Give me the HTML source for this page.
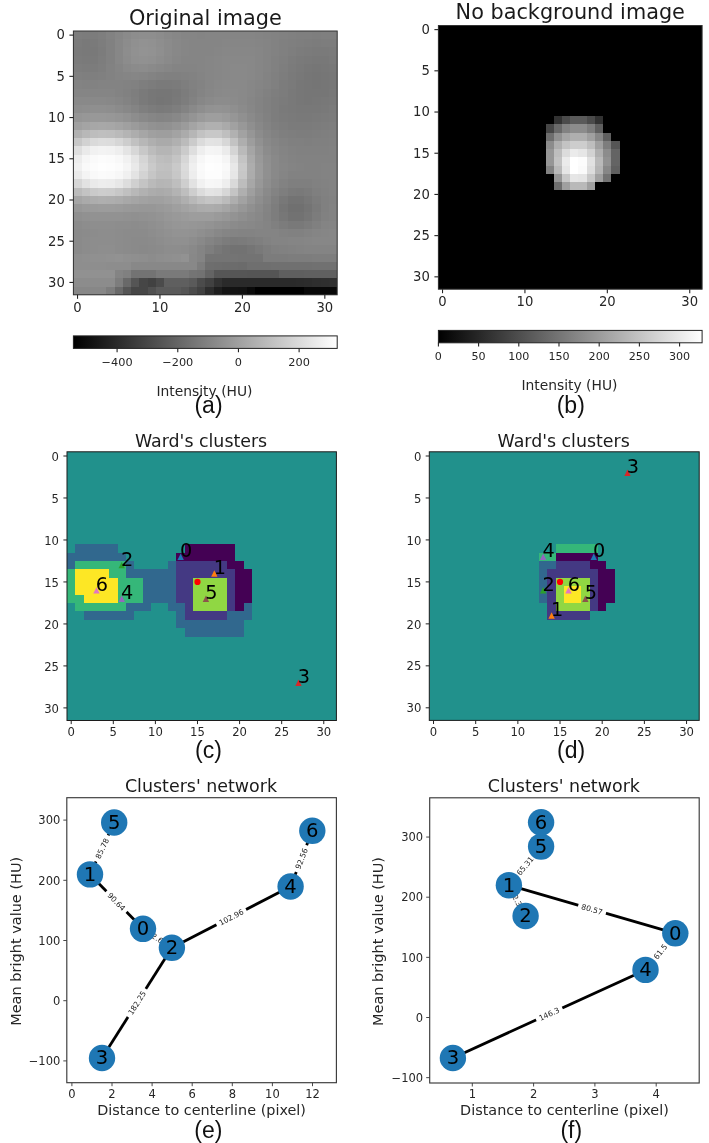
<!DOCTYPE html><html><head><meta charset="utf-8"><title>Figure</title><style>html,body{margin:0;padding:0;background:#fff}svg{display:block}</style></head><body>
<svg width="709" height="1143" viewBox="0 0 709 1143">
<rect width="709" height="1143" fill="#fff"/>
<rect x="73.4" y="31" width="263.8" height="263.8" fill="rgb(135,135,135)"/>
<g shape-rendering="crispEdges">
<rect x="73.4" y="31" width="8.24" height="8.24" fill="rgb(125,125,125)"/>
<rect x="81.64" y="31" width="16.49" height="8.24" fill="rgb(124,124,124)"/>
<rect x="98.13" y="31" width="8.24" height="8.24" fill="rgb(126,126,126)"/>
<rect x="106.38" y="31" width="8.24" height="8.24" fill="rgb(130,130,130)"/>
<rect x="114.62" y="31" width="8.24" height="8.24" fill="rgb(134,134,134)"/>
<rect x="122.86" y="31" width="8.24" height="8.24" fill="rgb(138,138,138)"/>
<rect x="131.11" y="31" width="8.24" height="8.24" fill="rgb(141,141,141)"/>
<rect x="139.35" y="31" width="16.49" height="8.24" fill="rgb(142,142,142)"/>
<rect x="155.84" y="31" width="8.24" height="8.24" fill="rgb(140,140,140)"/>
<rect x="164.08" y="31" width="8.24" height="8.24" fill="rgb(137,137,137)"/>
<rect x="172.33" y="31" width="8.24" height="8.24" fill="rgb(135,135,135)"/>
<rect x="180.57" y="31" width="16.49" height="8.24" fill="rgb(133,133,133)"/>
<rect x="197.06" y="31" width="8.24" height="8.24" fill="rgb(132,132,132)"/>
<rect x="205.3" y="31" width="49.46" height="8.24" fill="rgb(133,133,133)"/>
<rect x="254.76" y="31" width="8.24" height="8.24" fill="rgb(132,132,132)"/>
<rect x="263.01" y="31" width="8.24" height="8.24" fill="rgb(131,131,131)"/>
<rect x="271.25" y="31" width="8.24" height="8.24" fill="rgb(130,130,130)"/>
<rect x="279.49" y="31" width="8.24" height="8.24" fill="rgb(129,129,129)"/>
<rect x="287.74" y="31" width="8.24" height="8.24" fill="rgb(128,128,128)"/>
<rect x="295.98" y="31" width="16.49" height="8.24" fill="rgb(127,127,127)"/>
<rect x="312.47" y="31" width="8.24" height="8.24" fill="rgb(126,126,126)"/>
<rect x="320.71" y="31" width="16.49" height="8.24" fill="rgb(127,127,127)"/>
<rect x="73.4" y="39.24" width="8.24" height="8.24" fill="rgb(123,123,123)"/>
<rect x="81.64" y="39.24" width="8.24" height="8.24" fill="rgb(121,121,121)"/>
<rect x="89.89" y="39.24" width="8.24" height="8.24" fill="rgb(122,122,122)"/>
<rect x="98.13" y="39.24" width="8.24" height="8.24" fill="rgb(125,125,125)"/>
<rect x="106.38" y="39.24" width="8.24" height="8.24" fill="rgb(129,129,129)"/>
<rect x="114.62" y="39.24" width="8.24" height="8.24" fill="rgb(135,135,135)"/>
<rect x="122.86" y="39.24" width="8.24" height="8.24" fill="rgb(140,140,140)"/>
<rect x="131.11" y="39.24" width="8.24" height="8.24" fill="rgb(144,144,144)"/>
<rect x="139.35" y="39.24" width="8.24" height="8.24" fill="rgb(146,146,146)"/>
<rect x="147.59" y="39.24" width="8.24" height="8.24" fill="rgb(145,145,145)"/>
<rect x="155.84" y="39.24" width="8.24" height="8.24" fill="rgb(142,142,142)"/>
<rect x="164.08" y="39.24" width="8.24" height="8.24" fill="rgb(139,139,139)"/>
<rect x="172.33" y="39.24" width="8.24" height="8.24" fill="rgb(136,136,136)"/>
<rect x="180.57" y="39.24" width="8.24" height="8.24" fill="rgb(134,134,134)"/>
<rect x="188.81" y="39.24" width="32.98" height="8.24" fill="rgb(133,133,133)"/>
<rect x="221.79" y="39.24" width="32.98" height="8.24" fill="rgb(134,134,134)"/>
<rect x="254.76" y="39.24" width="8.24" height="8.24" fill="rgb(133,133,133)"/>
<rect x="263.01" y="39.24" width="8.24" height="8.24" fill="rgb(132,132,132)"/>
<rect x="271.25" y="39.24" width="8.24" height="8.24" fill="rgb(130,130,130)"/>
<rect x="279.49" y="39.24" width="8.24" height="8.24" fill="rgb(128,128,128)"/>
<rect x="287.74" y="39.24" width="8.24" height="8.24" fill="rgb(127,127,127)"/>
<rect x="295.98" y="39.24" width="8.24" height="8.24" fill="rgb(126,126,126)"/>
<rect x="304.23" y="39.24" width="8.24" height="8.24" fill="rgb(125,125,125)"/>
<rect x="312.47" y="39.24" width="8.24" height="8.24" fill="rgb(124,124,124)"/>
<rect x="320.71" y="39.24" width="16.49" height="8.24" fill="rgb(125,125,125)"/>
<rect x="73.4" y="47.49" width="8.24" height="8.24" fill="rgb(122,122,122)"/>
<rect x="81.64" y="47.49" width="16.49" height="8.24" fill="rgb(121,121,121)"/>
<rect x="98.13" y="47.49" width="8.24" height="8.24" fill="rgb(124,124,124)"/>
<rect x="106.38" y="47.49" width="8.24" height="8.24" fill="rgb(129,129,129)"/>
<rect x="114.62" y="47.49" width="8.24" height="8.24" fill="rgb(135,135,135)"/>
<rect x="122.86" y="47.49" width="8.24" height="8.24" fill="rgb(141,141,141)"/>
<rect x="131.11" y="47.49" width="8.24" height="8.24" fill="rgb(145,145,145)"/>
<rect x="139.35" y="47.49" width="8.24" height="8.24" fill="rgb(147,147,147)"/>
<rect x="147.59" y="47.49" width="8.24" height="8.24" fill="rgb(146,146,146)"/>
<rect x="155.84" y="47.49" width="8.24" height="8.24" fill="rgb(143,143,143)"/>
<rect x="164.08" y="47.49" width="8.24" height="8.24" fill="rgb(139,139,139)"/>
<rect x="172.33" y="47.49" width="8.24" height="8.24" fill="rgb(136,136,136)"/>
<rect x="180.57" y="47.49" width="8.24" height="8.24" fill="rgb(134,134,134)"/>
<rect x="188.81" y="47.49" width="24.73" height="8.24" fill="rgb(133,133,133)"/>
<rect x="213.54" y="47.49" width="8.24" height="8.24" fill="rgb(134,134,134)"/>
<rect x="221.79" y="47.49" width="32.98" height="8.24" fill="rgb(135,135,135)"/>
<rect x="254.76" y="47.49" width="8.24" height="8.24" fill="rgb(134,134,134)"/>
<rect x="263.01" y="47.49" width="8.24" height="8.24" fill="rgb(132,132,132)"/>
<rect x="271.25" y="47.49" width="8.24" height="8.24" fill="rgb(130,130,130)"/>
<rect x="279.49" y="47.49" width="8.24" height="8.24" fill="rgb(128,128,128)"/>
<rect x="287.74" y="47.49" width="8.24" height="8.24" fill="rgb(126,126,126)"/>
<rect x="295.98" y="47.49" width="8.24" height="8.24" fill="rgb(124,124,124)"/>
<rect x="304.23" y="47.49" width="8.24" height="8.24" fill="rgb(123,123,123)"/>
<rect x="312.47" y="47.49" width="16.49" height="8.24" fill="rgb(122,122,122)"/>
<rect x="328.96" y="47.49" width="8.24" height="8.24" fill="rgb(123,123,123)"/>
<rect x="73.4" y="55.73" width="8.24" height="8.24" fill="rgb(123,123,123)"/>
<rect x="81.64" y="55.73" width="16.49" height="8.24" fill="rgb(122,122,122)"/>
<rect x="98.13" y="55.73" width="8.24" height="8.24" fill="rgb(125,125,125)"/>
<rect x="106.38" y="55.73" width="8.24" height="8.24" fill="rgb(129,129,129)"/>
<rect x="114.62" y="55.73" width="8.24" height="8.24" fill="rgb(135,135,135)"/>
<rect x="122.86" y="55.73" width="8.24" height="8.24" fill="rgb(140,140,140)"/>
<rect x="131.11" y="55.73" width="8.24" height="8.24" fill="rgb(144,144,144)"/>
<rect x="139.35" y="55.73" width="8.24" height="8.24" fill="rgb(145,145,145)"/>
<rect x="147.59" y="55.73" width="8.24" height="8.24" fill="rgb(144,144,144)"/>
<rect x="155.84" y="55.73" width="8.24" height="8.24" fill="rgb(141,141,141)"/>
<rect x="164.08" y="55.73" width="8.24" height="8.24" fill="rgb(138,138,138)"/>
<rect x="172.33" y="55.73" width="8.24" height="8.24" fill="rgb(135,135,135)"/>
<rect x="180.57" y="55.73" width="24.73" height="8.24" fill="rgb(133,133,133)"/>
<rect x="205.3" y="55.73" width="8.24" height="8.24" fill="rgb(134,134,134)"/>
<rect x="213.54" y="55.73" width="8.24" height="8.24" fill="rgb(135,135,135)"/>
<rect x="221.79" y="55.73" width="32.98" height="8.24" fill="rgb(136,136,136)"/>
<rect x="254.76" y="55.73" width="8.24" height="8.24" fill="rgb(134,134,134)"/>
<rect x="263.01" y="55.73" width="8.24" height="8.24" fill="rgb(132,132,132)"/>
<rect x="271.25" y="55.73" width="8.24" height="8.24" fill="rgb(129,129,129)"/>
<rect x="279.49" y="55.73" width="8.24" height="8.24" fill="rgb(127,127,127)"/>
<rect x="287.74" y="55.73" width="8.24" height="8.24" fill="rgb(124,124,124)"/>
<rect x="295.98" y="55.73" width="8.24" height="8.24" fill="rgb(122,122,122)"/>
<rect x="304.23" y="55.73" width="8.24" height="8.24" fill="rgb(121,121,121)"/>
<rect x="312.47" y="55.73" width="16.49" height="8.24" fill="rgb(120,120,120)"/>
<rect x="328.96" y="55.73" width="8.24" height="8.24" fill="rgb(122,122,122)"/>
<rect x="73.4" y="63.98" width="8.24" height="8.24" fill="rgb(125,125,125)"/>
<rect x="81.64" y="63.98" width="16.49" height="8.24" fill="rgb(124,124,124)"/>
<rect x="98.13" y="63.98" width="8.24" height="8.24" fill="rgb(126,126,126)"/>
<rect x="106.38" y="63.98" width="8.24" height="8.24" fill="rgb(130,130,130)"/>
<rect x="114.62" y="63.98" width="8.24" height="8.24" fill="rgb(133,133,133)"/>
<rect x="122.86" y="63.98" width="8.24" height="8.24" fill="rgb(137,137,137)"/>
<rect x="131.11" y="63.98" width="8.24" height="8.24" fill="rgb(139,139,139)"/>
<rect x="139.35" y="63.98" width="8.24" height="8.24" fill="rgb(140,140,140)"/>
<rect x="147.59" y="63.98" width="8.24" height="8.24" fill="rgb(138,138,138)"/>
<rect x="155.84" y="63.98" width="8.24" height="8.24" fill="rgb(136,136,136)"/>
<rect x="164.08" y="63.98" width="8.24" height="8.24" fill="rgb(134,134,134)"/>
<rect x="172.33" y="63.98" width="24.73" height="8.24" fill="rgb(132,132,132)"/>
<rect x="197.06" y="63.98" width="8.24" height="8.24" fill="rgb(133,133,133)"/>
<rect x="205.3" y="63.98" width="8.24" height="8.24" fill="rgb(134,134,134)"/>
<rect x="213.54" y="63.98" width="8.24" height="8.24" fill="rgb(135,135,135)"/>
<rect x="221.79" y="63.98" width="8.24" height="8.24" fill="rgb(136,136,136)"/>
<rect x="230.03" y="63.98" width="16.49" height="8.24" fill="rgb(137,137,137)"/>
<rect x="246.52" y="63.98" width="8.24" height="8.24" fill="rgb(136,136,136)"/>
<rect x="254.76" y="63.98" width="8.24" height="8.24" fill="rgb(134,134,134)"/>
<rect x="263.01" y="63.98" width="8.24" height="8.24" fill="rgb(132,132,132)"/>
<rect x="271.25" y="63.98" width="8.24" height="8.24" fill="rgb(129,129,129)"/>
<rect x="279.49" y="63.98" width="8.24" height="8.24" fill="rgb(126,126,126)"/>
<rect x="287.74" y="63.98" width="8.24" height="8.24" fill="rgb(123,123,123)"/>
<rect x="295.98" y="63.98" width="8.24" height="8.24" fill="rgb(121,121,121)"/>
<rect x="304.23" y="63.98" width="8.24" height="8.24" fill="rgb(119,119,119)"/>
<rect x="312.47" y="63.98" width="8.24" height="8.24" fill="rgb(118,118,118)"/>
<rect x="320.71" y="63.98" width="8.24" height="8.24" fill="rgb(119,119,119)"/>
<rect x="328.96" y="63.98" width="8.24" height="8.24" fill="rgb(120,120,120)"/>
<rect x="73.4" y="72.22" width="8.24" height="8.24" fill="rgb(128,128,128)"/>
<rect x="81.64" y="72.22" width="16.49" height="8.24" fill="rgb(127,127,127)"/>
<rect x="98.13" y="72.22" width="8.24" height="8.24" fill="rgb(128,128,128)"/>
<rect x="106.38" y="72.22" width="8.24" height="8.24" fill="rgb(130,130,130)"/>
<rect x="114.62" y="72.22" width="8.24" height="8.24" fill="rgb(132,132,132)"/>
<rect x="122.86" y="72.22" width="8.24" height="8.24" fill="rgb(133,133,133)"/>
<rect x="131.11" y="72.22" width="8.24" height="8.24" fill="rgb(134,134,134)"/>
<rect x="139.35" y="72.22" width="8.24" height="8.24" fill="rgb(133,133,133)"/>
<rect x="147.59" y="72.22" width="8.24" height="8.24" fill="rgb(131,131,131)"/>
<rect x="155.84" y="72.22" width="8.24" height="8.24" fill="rgb(129,129,129)"/>
<rect x="164.08" y="72.22" width="16.49" height="8.24" fill="rgb(128,128,128)"/>
<rect x="180.57" y="72.22" width="8.24" height="8.24" fill="rgb(129,129,129)"/>
<rect x="188.81" y="72.22" width="8.24" height="8.24" fill="rgb(130,130,130)"/>
<rect x="197.06" y="72.22" width="8.24" height="8.24" fill="rgb(132,132,132)"/>
<rect x="205.3" y="72.22" width="8.24" height="8.24" fill="rgb(134,134,134)"/>
<rect x="213.54" y="72.22" width="8.24" height="8.24" fill="rgb(135,135,135)"/>
<rect x="221.79" y="72.22" width="8.24" height="8.24" fill="rgb(136,136,136)"/>
<rect x="230.03" y="72.22" width="16.49" height="8.24" fill="rgb(137,137,137)"/>
<rect x="246.52" y="72.22" width="8.24" height="8.24" fill="rgb(136,136,136)"/>
<rect x="254.76" y="72.22" width="8.24" height="8.24" fill="rgb(134,134,134)"/>
<rect x="263.01" y="72.22" width="8.24" height="8.24" fill="rgb(131,131,131)"/>
<rect x="271.25" y="72.22" width="8.24" height="8.24" fill="rgb(128,128,128)"/>
<rect x="279.49" y="72.22" width="8.24" height="8.24" fill="rgb(125,125,125)"/>
<rect x="287.74" y="72.22" width="8.24" height="8.24" fill="rgb(122,122,122)"/>
<rect x="295.98" y="72.22" width="8.24" height="8.24" fill="rgb(120,120,120)"/>
<rect x="304.23" y="72.22" width="8.24" height="8.24" fill="rgb(118,118,118)"/>
<rect x="312.47" y="72.22" width="8.24" height="8.24" fill="rgb(117,117,117)"/>
<rect x="320.71" y="72.22" width="8.24" height="8.24" fill="rgb(118,118,118)"/>
<rect x="328.96" y="72.22" width="8.24" height="8.24" fill="rgb(119,119,119)"/>
<rect x="73.4" y="80.46" width="8.24" height="8.24" fill="rgb(131,131,131)"/>
<rect x="81.64" y="80.46" width="16.49" height="8.24" fill="rgb(130,130,130)"/>
<rect x="98.13" y="80.46" width="24.73" height="8.24" fill="rgb(131,131,131)"/>
<rect x="122.86" y="80.46" width="8.24" height="8.24" fill="rgb(130,130,130)"/>
<rect x="131.11" y="80.46" width="8.24" height="8.24" fill="rgb(129,129,129)"/>
<rect x="139.35" y="80.46" width="8.24" height="8.24" fill="rgb(126,126,126)"/>
<rect x="147.59" y="80.46" width="8.24" height="8.24" fill="rgb(124,124,124)"/>
<rect x="155.84" y="80.46" width="16.49" height="8.24" fill="rgb(122,122,122)"/>
<rect x="172.33" y="80.46" width="8.24" height="8.24" fill="rgb(123,123,123)"/>
<rect x="180.57" y="80.46" width="8.24" height="8.24" fill="rgb(126,126,126)"/>
<rect x="188.81" y="80.46" width="8.24" height="8.24" fill="rgb(129,129,129)"/>
<rect x="197.06" y="80.46" width="8.24" height="8.24" fill="rgb(131,131,131)"/>
<rect x="205.3" y="80.46" width="8.24" height="8.24" fill="rgb(134,134,134)"/>
<rect x="213.54" y="80.46" width="8.24" height="8.24" fill="rgb(136,136,136)"/>
<rect x="221.79" y="80.46" width="24.73" height="8.24" fill="rgb(137,137,137)"/>
<rect x="246.52" y="80.46" width="8.24" height="8.24" fill="rgb(135,135,135)"/>
<rect x="254.76" y="80.46" width="8.24" height="8.24" fill="rgb(133,133,133)"/>
<rect x="263.01" y="80.46" width="8.24" height="8.24" fill="rgb(131,131,131)"/>
<rect x="271.25" y="80.46" width="8.24" height="8.24" fill="rgb(128,128,128)"/>
<rect x="279.49" y="80.46" width="8.24" height="8.24" fill="rgb(124,124,124)"/>
<rect x="287.74" y="80.46" width="8.24" height="8.24" fill="rgb(122,122,122)"/>
<rect x="295.98" y="80.46" width="8.24" height="8.24" fill="rgb(119,119,119)"/>
<rect x="304.23" y="80.46" width="8.24" height="8.24" fill="rgb(118,118,118)"/>
<rect x="312.47" y="80.46" width="8.24" height="8.24" fill="rgb(117,117,117)"/>
<rect x="320.71" y="80.46" width="8.24" height="8.24" fill="rgb(118,118,118)"/>
<rect x="328.96" y="80.46" width="8.24" height="8.24" fill="rgb(119,119,119)"/>
<rect x="73.4" y="88.71" width="41.22" height="8.24" fill="rgb(133,133,133)"/>
<rect x="114.62" y="88.71" width="8.24" height="8.24" fill="rgb(131,131,131)"/>
<rect x="122.86" y="88.71" width="8.24" height="8.24" fill="rgb(129,129,129)"/>
<rect x="131.11" y="88.71" width="8.24" height="8.24" fill="rgb(126,126,126)"/>
<rect x="139.35" y="88.71" width="8.24" height="8.24" fill="rgb(122,122,122)"/>
<rect x="147.59" y="88.71" width="8.24" height="8.24" fill="rgb(119,119,119)"/>
<rect x="155.84" y="88.71" width="16.49" height="8.24" fill="rgb(118,118,118)"/>
<rect x="172.33" y="88.71" width="8.24" height="8.24" fill="rgb(120,120,120)"/>
<rect x="180.57" y="88.71" width="8.24" height="8.24" fill="rgb(124,124,124)"/>
<rect x="188.81" y="88.71" width="8.24" height="8.24" fill="rgb(128,128,128)"/>
<rect x="197.06" y="88.71" width="8.24" height="8.24" fill="rgb(132,132,132)"/>
<rect x="205.3" y="88.71" width="8.24" height="8.24" fill="rgb(135,135,135)"/>
<rect x="213.54" y="88.71" width="8.24" height="8.24" fill="rgb(137,137,137)"/>
<rect x="221.79" y="88.71" width="16.49" height="8.24" fill="rgb(138,138,138)"/>
<rect x="238.28" y="88.71" width="8.24" height="8.24" fill="rgb(137,137,137)"/>
<rect x="246.52" y="88.71" width="8.24" height="8.24" fill="rgb(135,135,135)"/>
<rect x="254.76" y="88.71" width="8.24" height="8.24" fill="rgb(132,132,132)"/>
<rect x="263.01" y="88.71" width="8.24" height="8.24" fill="rgb(129,129,129)"/>
<rect x="271.25" y="88.71" width="8.24" height="8.24" fill="rgb(126,126,126)"/>
<rect x="279.49" y="88.71" width="8.24" height="8.24" fill="rgb(124,124,124)"/>
<rect x="287.74" y="88.71" width="8.24" height="8.24" fill="rgb(121,121,121)"/>
<rect x="295.98" y="88.71" width="8.24" height="8.24" fill="rgb(119,119,119)"/>
<rect x="304.23" y="88.71" width="24.73" height="8.24" fill="rgb(118,118,118)"/>
<rect x="328.96" y="88.71" width="8.24" height="8.24" fill="rgb(120,120,120)"/>
<rect x="73.4" y="96.95" width="32.98" height="8.24" fill="rgb(137,137,137)"/>
<rect x="106.38" y="96.95" width="8.24" height="8.24" fill="rgb(136,136,136)"/>
<rect x="114.62" y="96.95" width="8.24" height="8.24" fill="rgb(134,134,134)"/>
<rect x="122.86" y="96.95" width="8.24" height="8.24" fill="rgb(131,131,131)"/>
<rect x="131.11" y="96.95" width="8.24" height="8.24" fill="rgb(127,127,127)"/>
<rect x="139.35" y="96.95" width="8.24" height="8.24" fill="rgb(122,122,122)"/>
<rect x="147.59" y="96.95" width="8.24" height="8.24" fill="rgb(119,119,119)"/>
<rect x="155.84" y="96.95" width="8.24" height="8.24" fill="rgb(117,117,117)"/>
<rect x="164.08" y="96.95" width="8.24" height="8.24" fill="rgb(118,118,118)"/>
<rect x="172.33" y="96.95" width="8.24" height="8.24" fill="rgb(121,121,121)"/>
<rect x="180.57" y="96.95" width="8.24" height="8.24" fill="rgb(125,125,125)"/>
<rect x="188.81" y="96.95" width="8.24" height="8.24" fill="rgb(130,130,130)"/>
<rect x="197.06" y="96.95" width="8.24" height="8.24" fill="rgb(135,135,135)"/>
<rect x="205.3" y="96.95" width="8.24" height="8.24" fill="rgb(138,138,138)"/>
<rect x="213.54" y="96.95" width="16.49" height="8.24" fill="rgb(140,140,140)"/>
<rect x="230.03" y="96.95" width="8.24" height="8.24" fill="rgb(139,139,139)"/>
<rect x="238.28" y="96.95" width="8.24" height="8.24" fill="rgb(137,137,137)"/>
<rect x="246.52" y="96.95" width="8.24" height="8.24" fill="rgb(134,134,134)"/>
<rect x="254.76" y="96.95" width="8.24" height="8.24" fill="rgb(131,131,131)"/>
<rect x="263.01" y="96.95" width="8.24" height="8.24" fill="rgb(128,128,128)"/>
<rect x="271.25" y="96.95" width="8.24" height="8.24" fill="rgb(125,125,125)"/>
<rect x="279.49" y="96.95" width="8.24" height="8.24" fill="rgb(123,123,123)"/>
<rect x="287.74" y="96.95" width="8.24" height="8.24" fill="rgb(121,121,121)"/>
<rect x="295.98" y="96.95" width="8.24" height="8.24" fill="rgb(119,119,119)"/>
<rect x="304.23" y="96.95" width="8.24" height="8.24" fill="rgb(118,118,118)"/>
<rect x="312.47" y="96.95" width="8.24" height="8.24" fill="rgb(119,119,119)"/>
<rect x="320.71" y="96.95" width="8.24" height="8.24" fill="rgb(120,120,120)"/>
<rect x="328.96" y="96.95" width="8.24" height="8.24" fill="rgb(121,121,121)"/>
<rect x="73.4" y="105.19" width="8.24" height="8.24" fill="rgb(141,141,141)"/>
<rect x="81.64" y="105.19" width="8.24" height="8.24" fill="rgb(142,142,142)"/>
<rect x="89.89" y="105.19" width="16.49" height="8.24" fill="rgb(143,143,143)"/>
<rect x="106.38" y="105.19" width="8.24" height="8.24" fill="rgb(142,142,142)"/>
<rect x="114.62" y="105.19" width="8.24" height="8.24" fill="rgb(139,139,139)"/>
<rect x="122.86" y="105.19" width="8.24" height="8.24" fill="rgb(136,136,136)"/>
<rect x="131.11" y="105.19" width="8.24" height="8.24" fill="rgb(132,132,132)"/>
<rect x="139.35" y="105.19" width="8.24" height="8.24" fill="rgb(127,127,127)"/>
<rect x="147.59" y="105.19" width="8.24" height="8.24" fill="rgb(124,124,124)"/>
<rect x="155.84" y="105.19" width="8.24" height="8.24" fill="rgb(122,122,122)"/>
<rect x="164.08" y="105.19" width="8.24" height="8.24" fill="rgb(123,123,123)"/>
<rect x="172.33" y="105.19" width="8.24" height="8.24" fill="rgb(126,126,126)"/>
<rect x="180.57" y="105.19" width="8.24" height="8.24" fill="rgb(131,131,131)"/>
<rect x="188.81" y="105.19" width="8.24" height="8.24" fill="rgb(137,137,137)"/>
<rect x="197.06" y="105.19" width="8.24" height="8.24" fill="rgb(142,142,142)"/>
<rect x="205.3" y="105.19" width="8.24" height="8.24" fill="rgb(146,146,146)"/>
<rect x="213.54" y="105.19" width="8.24" height="8.24" fill="rgb(147,147,147)"/>
<rect x="221.79" y="105.19" width="8.24" height="8.24" fill="rgb(146,146,146)"/>
<rect x="230.03" y="105.19" width="8.24" height="8.24" fill="rgb(143,143,143)"/>
<rect x="238.28" y="105.19" width="8.24" height="8.24" fill="rgb(139,139,139)"/>
<rect x="246.52" y="105.19" width="8.24" height="8.24" fill="rgb(135,135,135)"/>
<rect x="254.76" y="105.19" width="8.24" height="8.24" fill="rgb(131,131,131)"/>
<rect x="263.01" y="105.19" width="8.24" height="8.24" fill="rgb(128,128,128)"/>
<rect x="271.25" y="105.19" width="8.24" height="8.24" fill="rgb(125,125,125)"/>
<rect x="279.49" y="105.19" width="8.24" height="8.24" fill="rgb(122,122,122)"/>
<rect x="287.74" y="105.19" width="8.24" height="8.24" fill="rgb(121,121,121)"/>
<rect x="295.98" y="105.19" width="24.73" height="8.24" fill="rgb(120,120,120)"/>
<rect x="320.71" y="105.19" width="8.24" height="8.24" fill="rgb(121,121,121)"/>
<rect x="328.96" y="105.19" width="8.24" height="8.24" fill="rgb(123,123,123)"/>
<rect x="73.4" y="113.44" width="8.24" height="8.24" fill="rgb(149,149,149)"/>
<rect x="81.64" y="113.44" width="8.24" height="8.24" fill="rgb(151,151,151)"/>
<rect x="89.89" y="113.44" width="16.49" height="8.24" fill="rgb(152,152,152)"/>
<rect x="106.38" y="113.44" width="8.24" height="8.24" fill="rgb(151,151,151)"/>
<rect x="114.62" y="113.44" width="8.24" height="8.24" fill="rgb(149,149,149)"/>
<rect x="122.86" y="113.44" width="8.24" height="8.24" fill="rgb(146,146,146)"/>
<rect x="131.11" y="113.44" width="8.24" height="8.24" fill="rgb(141,141,141)"/>
<rect x="139.35" y="113.44" width="8.24" height="8.24" fill="rgb(137,137,137)"/>
<rect x="147.59" y="113.44" width="8.24" height="8.24" fill="rgb(134,134,134)"/>
<rect x="155.84" y="113.44" width="8.24" height="8.24" fill="rgb(132,132,132)"/>
<rect x="164.08" y="113.44" width="8.24" height="8.24" fill="rgb(133,133,133)"/>
<rect x="172.33" y="113.44" width="8.24" height="8.24" fill="rgb(136,136,136)"/>
<rect x="180.57" y="113.44" width="8.24" height="8.24" fill="rgb(142,142,142)"/>
<rect x="188.81" y="113.44" width="8.24" height="8.24" fill="rgb(148,148,148)"/>
<rect x="197.06" y="113.44" width="8.24" height="8.24" fill="rgb(154,154,154)"/>
<rect x="205.3" y="113.44" width="16.49" height="8.24" fill="rgb(158,158,158)"/>
<rect x="221.79" y="113.44" width="8.24" height="8.24" fill="rgb(155,155,155)"/>
<rect x="230.03" y="113.44" width="8.24" height="8.24" fill="rgb(150,150,150)"/>
<rect x="238.28" y="113.44" width="8.24" height="8.24" fill="rgb(144,144,144)"/>
<rect x="246.52" y="113.44" width="8.24" height="8.24" fill="rgb(138,138,138)"/>
<rect x="254.76" y="113.44" width="8.24" height="8.24" fill="rgb(133,133,133)"/>
<rect x="263.01" y="113.44" width="8.24" height="8.24" fill="rgb(129,129,129)"/>
<rect x="271.25" y="113.44" width="8.24" height="8.24" fill="rgb(125,125,125)"/>
<rect x="279.49" y="113.44" width="8.24" height="8.24" fill="rgb(123,123,123)"/>
<rect x="287.74" y="113.44" width="8.24" height="8.24" fill="rgb(122,122,122)"/>
<rect x="295.98" y="113.44" width="16.49" height="8.24" fill="rgb(121,121,121)"/>
<rect x="312.47" y="113.44" width="8.24" height="8.24" fill="rgb(122,122,122)"/>
<rect x="320.71" y="113.44" width="8.24" height="8.24" fill="rgb(123,123,123)"/>
<rect x="328.96" y="113.44" width="8.24" height="8.24" fill="rgb(124,124,124)"/>
<rect x="73.4" y="121.68" width="8.24" height="8.24" fill="rgb(160,160,160)"/>
<rect x="81.64" y="121.68" width="8.24" height="8.24" fill="rgb(164,164,164)"/>
<rect x="89.89" y="121.68" width="8.24" height="8.24" fill="rgb(167,167,167)"/>
<rect x="98.13" y="121.68" width="8.24" height="8.24" fill="rgb(168,168,168)"/>
<rect x="106.38" y="121.68" width="8.24" height="8.24" fill="rgb(167,167,167)"/>
<rect x="114.62" y="121.68" width="8.24" height="8.24" fill="rgb(164,164,164)"/>
<rect x="122.86" y="121.68" width="8.24" height="8.24" fill="rgb(160,160,160)"/>
<rect x="131.11" y="121.68" width="8.24" height="8.24" fill="rgb(155,155,155)"/>
<rect x="139.35" y="121.68" width="8.24" height="8.24" fill="rgb(150,150,150)"/>
<rect x="147.59" y="121.68" width="8.24" height="8.24" fill="rgb(146,146,146)"/>
<rect x="155.84" y="121.68" width="8.24" height="8.24" fill="rgb(144,144,144)"/>
<rect x="164.08" y="121.68" width="8.24" height="8.24" fill="rgb(145,145,145)"/>
<rect x="172.33" y="121.68" width="8.24" height="8.24" fill="rgb(149,149,149)"/>
<rect x="180.57" y="121.68" width="8.24" height="8.24" fill="rgb(155,155,155)"/>
<rect x="188.81" y="121.68" width="8.24" height="8.24" fill="rgb(164,164,164)"/>
<rect x="197.06" y="121.68" width="8.24" height="8.24" fill="rgb(171,171,171)"/>
<rect x="205.3" y="121.68" width="16.49" height="8.24" fill="rgb(176,176,176)"/>
<rect x="221.79" y="121.68" width="8.24" height="8.24" fill="rgb(170,170,170)"/>
<rect x="230.03" y="121.68" width="8.24" height="8.24" fill="rgb(161,161,161)"/>
<rect x="238.28" y="121.68" width="8.24" height="8.24" fill="rgb(152,152,152)"/>
<rect x="246.52" y="121.68" width="8.24" height="8.24" fill="rgb(143,143,143)"/>
<rect x="254.76" y="121.68" width="8.24" height="8.24" fill="rgb(136,136,136)"/>
<rect x="263.01" y="121.68" width="8.24" height="8.24" fill="rgb(131,131,131)"/>
<rect x="271.25" y="121.68" width="8.24" height="8.24" fill="rgb(127,127,127)"/>
<rect x="279.49" y="121.68" width="8.24" height="8.24" fill="rgb(125,125,125)"/>
<rect x="287.74" y="121.68" width="24.73" height="8.24" fill="rgb(123,123,123)"/>
<rect x="312.47" y="121.68" width="8.24" height="8.24" fill="rgb(124,124,124)"/>
<rect x="320.71" y="121.68" width="8.24" height="8.24" fill="rgb(125,125,125)"/>
<rect x="328.96" y="121.68" width="8.24" height="8.24" fill="rgb(126,126,126)"/>
<rect x="73.4" y="129.93" width="8.24" height="8.24" fill="rgb(177,177,177)"/>
<rect x="81.64" y="129.93" width="8.24" height="8.24" fill="rgb(184,184,184)"/>
<rect x="89.89" y="129.93" width="8.24" height="8.24" fill="rgb(189,189,189)"/>
<rect x="98.13" y="129.93" width="8.24" height="8.24" fill="rgb(191,191,191)"/>
<rect x="106.38" y="129.93" width="8.24" height="8.24" fill="rgb(190,190,190)"/>
<rect x="114.62" y="129.93" width="8.24" height="8.24" fill="rgb(186,186,186)"/>
<rect x="122.86" y="129.93" width="8.24" height="8.24" fill="rgb(180,180,180)"/>
<rect x="131.11" y="129.93" width="8.24" height="8.24" fill="rgb(173,173,173)"/>
<rect x="139.35" y="129.93" width="8.24" height="8.24" fill="rgb(166,166,166)"/>
<rect x="147.59" y="129.93" width="8.24" height="8.24" fill="rgb(160,160,160)"/>
<rect x="155.84" y="129.93" width="16.49" height="8.24" fill="rgb(158,158,158)"/>
<rect x="172.33" y="129.93" width="8.24" height="8.24" fill="rgb(163,163,163)"/>
<rect x="180.57" y="129.93" width="8.24" height="8.24" fill="rgb(171,171,171)"/>
<rect x="188.81" y="129.93" width="8.24" height="8.24" fill="rgb(182,182,182)"/>
<rect x="197.06" y="129.93" width="8.24" height="8.24" fill="rgb(194,194,194)"/>
<rect x="205.3" y="129.93" width="16.49" height="8.24" fill="rgb(200,200,200)"/>
<rect x="221.79" y="129.93" width="8.24" height="8.24" fill="rgb(191,191,191)"/>
<rect x="230.03" y="129.93" width="8.24" height="8.24" fill="rgb(177,177,177)"/>
<rect x="238.28" y="129.93" width="8.24" height="8.24" fill="rgb(162,162,162)"/>
<rect x="246.52" y="129.93" width="8.24" height="8.24" fill="rgb(150,150,150)"/>
<rect x="254.76" y="129.93" width="8.24" height="8.24" fill="rgb(140,140,140)"/>
<rect x="263.01" y="129.93" width="8.24" height="8.24" fill="rgb(134,134,134)"/>
<rect x="271.25" y="129.93" width="8.24" height="8.24" fill="rgb(130,130,130)"/>
<rect x="279.49" y="129.93" width="8.24" height="8.24" fill="rgb(127,127,127)"/>
<rect x="287.74" y="129.93" width="8.24" height="8.24" fill="rgb(126,126,126)"/>
<rect x="295.98" y="129.93" width="16.49" height="8.24" fill="rgb(125,125,125)"/>
<rect x="312.47" y="129.93" width="8.24" height="8.24" fill="rgb(126,126,126)"/>
<rect x="320.71" y="129.93" width="8.24" height="8.24" fill="rgb(127,127,127)"/>
<rect x="328.96" y="129.93" width="8.24" height="8.24" fill="rgb(128,128,128)"/>
<rect x="73.4" y="138.17" width="8.24" height="8.24" fill="rgb(199,199,199)"/>
<rect x="81.64" y="138.17" width="8.24" height="8.24" fill="rgb(210,210,210)"/>
<rect x="89.89" y="138.17" width="8.24" height="8.24" fill="rgb(218,218,218)"/>
<rect x="98.13" y="138.17" width="8.24" height="8.24" fill="rgb(221,221,221)"/>
<rect x="106.38" y="138.17" width="8.24" height="8.24" fill="rgb(220,220,220)"/>
<rect x="114.62" y="138.17" width="8.24" height="8.24" fill="rgb(214,214,214)"/>
<rect x="122.86" y="138.17" width="8.24" height="8.24" fill="rgb(205,205,205)"/>
<rect x="131.11" y="138.17" width="8.24" height="8.24" fill="rgb(193,193,193)"/>
<rect x="139.35" y="138.17" width="8.24" height="8.24" fill="rgb(183,183,183)"/>
<rect x="147.59" y="138.17" width="8.24" height="8.24" fill="rgb(175,175,175)"/>
<rect x="155.84" y="138.17" width="16.49" height="8.24" fill="rgb(170,170,170)"/>
<rect x="172.33" y="138.17" width="8.24" height="8.24" fill="rgb(176,176,176)"/>
<rect x="180.57" y="138.17" width="8.24" height="8.24" fill="rgb(187,187,187)"/>
<rect x="188.81" y="138.17" width="8.24" height="8.24" fill="rgb(203,203,203)"/>
<rect x="197.06" y="138.17" width="8.24" height="8.24" fill="rgb(219,219,219)"/>
<rect x="205.3" y="138.17" width="8.24" height="8.24" fill="rgb(227,227,227)"/>
<rect x="213.54" y="138.17" width="8.24" height="8.24" fill="rgb(226,226,226)"/>
<rect x="221.79" y="138.17" width="8.24" height="8.24" fill="rgb(215,215,215)"/>
<rect x="230.03" y="138.17" width="8.24" height="8.24" fill="rgb(195,195,195)"/>
<rect x="238.28" y="138.17" width="8.24" height="8.24" fill="rgb(174,174,174)"/>
<rect x="246.52" y="138.17" width="8.24" height="8.24" fill="rgb(157,157,157)"/>
<rect x="254.76" y="138.17" width="8.24" height="8.24" fill="rgb(145,145,145)"/>
<rect x="263.01" y="138.17" width="8.24" height="8.24" fill="rgb(137,137,137)"/>
<rect x="271.25" y="138.17" width="8.24" height="8.24" fill="rgb(133,133,133)"/>
<rect x="279.49" y="138.17" width="8.24" height="8.24" fill="rgb(130,130,130)"/>
<rect x="287.74" y="138.17" width="16.49" height="8.24" fill="rgb(128,128,128)"/>
<rect x="304.23" y="138.17" width="8.24" height="8.24" fill="rgb(127,127,127)"/>
<rect x="312.47" y="138.17" width="16.49" height="8.24" fill="rgb(128,128,128)"/>
<rect x="328.96" y="138.17" width="8.24" height="8.24" fill="rgb(129,129,129)"/>
<rect x="73.4" y="146.41" width="8.24" height="8.24" fill="rgb(222,222,222)"/>
<rect x="81.64" y="146.41" width="8.24" height="8.24" fill="rgb(234,234,234)"/>
<rect x="89.89" y="146.41" width="8.24" height="8.24" fill="rgb(241,241,241)"/>
<rect x="98.13" y="146.41" width="8.24" height="8.24" fill="rgb(243,243,243)"/>
<rect x="106.38" y="146.41" width="8.24" height="8.24" fill="rgb(242,242,242)"/>
<rect x="114.62" y="146.41" width="8.24" height="8.24" fill="rgb(238,238,238)"/>
<rect x="122.86" y="146.41" width="8.24" height="8.24" fill="rgb(228,228,228)"/>
<rect x="131.11" y="146.41" width="8.24" height="8.24" fill="rgb(215,215,215)"/>
<rect x="139.35" y="146.41" width="8.24" height="8.24" fill="rgb(200,200,200)"/>
<rect x="147.59" y="146.41" width="8.24" height="8.24" fill="rgb(188,188,188)"/>
<rect x="155.84" y="146.41" width="16.49" height="8.24" fill="rgb(181,181,181)"/>
<rect x="172.33" y="146.41" width="8.24" height="8.24" fill="rgb(188,188,188)"/>
<rect x="180.57" y="146.41" width="8.24" height="8.24" fill="rgb(203,203,203)"/>
<rect x="188.81" y="146.41" width="8.24" height="8.24" fill="rgb(222,222,222)"/>
<rect x="197.06" y="146.41" width="8.24" height="8.24" fill="rgb(238,238,238)"/>
<rect x="205.3" y="146.41" width="8.24" height="8.24" fill="rgb(245,245,245)"/>
<rect x="213.54" y="146.41" width="8.24" height="8.24" fill="rgb(244,244,244)"/>
<rect x="221.79" y="146.41" width="8.24" height="8.24" fill="rgb(235,235,235)"/>
<rect x="230.03" y="146.41" width="8.24" height="8.24" fill="rgb(213,213,213)"/>
<rect x="238.28" y="146.41" width="8.24" height="8.24" fill="rgb(186,186,186)"/>
<rect x="246.52" y="146.41" width="8.24" height="8.24" fill="rgb(165,165,165)"/>
<rect x="254.76" y="146.41" width="8.24" height="8.24" fill="rgb(150,150,150)"/>
<rect x="263.01" y="146.41" width="8.24" height="8.24" fill="rgb(140,140,140)"/>
<rect x="271.25" y="146.41" width="8.24" height="8.24" fill="rgb(135,135,135)"/>
<rect x="279.49" y="146.41" width="8.24" height="8.24" fill="rgb(132,132,132)"/>
<rect x="287.74" y="146.41" width="8.24" height="8.24" fill="rgb(130,130,130)"/>
<rect x="295.98" y="146.41" width="32.98" height="8.24" fill="rgb(129,129,129)"/>
<rect x="328.96" y="146.41" width="8.24" height="8.24" fill="rgb(130,130,130)"/>
<rect x="73.4" y="154.66" width="8.24" height="8.24" fill="rgb(236,236,236)"/>
<rect x="81.64" y="154.66" width="8.24" height="8.24" fill="rgb(246,246,246)"/>
<rect x="89.89" y="154.66" width="8.24" height="8.24" fill="rgb(250,250,250)"/>
<rect x="98.13" y="154.66" width="8.24" height="8.24" fill="rgb(252,252,252)"/>
<rect x="106.38" y="154.66" width="8.24" height="8.24" fill="rgb(251,251,251)"/>
<rect x="114.62" y="154.66" width="8.24" height="8.24" fill="rgb(248,248,248)"/>
<rect x="122.86" y="154.66" width="8.24" height="8.24" fill="rgb(241,241,241)"/>
<rect x="131.11" y="154.66" width="8.24" height="8.24" fill="rgb(229,229,229)"/>
<rect x="139.35" y="154.66" width="8.24" height="8.24" fill="rgb(213,213,213)"/>
<rect x="147.59" y="154.66" width="8.24" height="8.24" fill="rgb(198,198,198)"/>
<rect x="155.84" y="154.66" width="8.24" height="8.24" fill="rgb(190,190,190)"/>
<rect x="164.08" y="154.66" width="8.24" height="8.24" fill="rgb(188,188,188)"/>
<rect x="172.33" y="154.66" width="8.24" height="8.24" fill="rgb(196,196,196)"/>
<rect x="180.57" y="154.66" width="8.24" height="8.24" fill="rgb(214,214,214)"/>
<rect x="188.81" y="154.66" width="8.24" height="8.24" fill="rgb(235,235,235)"/>
<rect x="197.06" y="154.66" width="8.24" height="8.24" fill="rgb(247,247,247)"/>
<rect x="205.3" y="154.66" width="8.24" height="8.24" fill="rgb(252,252,252)"/>
<rect x="213.54" y="154.66" width="8.24" height="8.24" fill="rgb(251,251,251)"/>
<rect x="221.79" y="154.66" width="8.24" height="8.24" fill="rgb(245,245,245)"/>
<rect x="230.03" y="154.66" width="8.24" height="8.24" fill="rgb(226,226,226)"/>
<rect x="238.28" y="154.66" width="8.24" height="8.24" fill="rgb(196,196,196)"/>
<rect x="246.52" y="154.66" width="8.24" height="8.24" fill="rgb(170,170,170)"/>
<rect x="254.76" y="154.66" width="8.24" height="8.24" fill="rgb(153,153,153)"/>
<rect x="263.01" y="154.66" width="8.24" height="8.24" fill="rgb(143,143,143)"/>
<rect x="271.25" y="154.66" width="8.24" height="8.24" fill="rgb(137,137,137)"/>
<rect x="279.49" y="154.66" width="8.24" height="8.24" fill="rgb(133,133,133)"/>
<rect x="287.74" y="154.66" width="8.24" height="8.24" fill="rgb(131,131,131)"/>
<rect x="295.98" y="154.66" width="41.22" height="8.24" fill="rgb(130,130,130)"/>
<rect x="73.4" y="162.9" width="8.24" height="8.24" fill="rgb(240,240,240)"/>
<rect x="81.64" y="162.9" width="8.24" height="8.24" fill="rgb(249,249,249)"/>
<rect x="89.89" y="162.9" width="8.24" height="8.24" fill="rgb(252,252,252)"/>
<rect x="98.13" y="162.9" width="8.24" height="8.24" fill="rgb(254,254,254)"/>
<rect x="106.38" y="162.9" width="8.24" height="8.24" fill="rgb(253,253,253)"/>
<rect x="114.62" y="162.9" width="8.24" height="8.24" fill="rgb(251,251,251)"/>
<rect x="122.86" y="162.9" width="8.24" height="8.24" fill="rgb(245,245,245)"/>
<rect x="131.11" y="162.9" width="8.24" height="8.24" fill="rgb(233,233,233)"/>
<rect x="139.35" y="162.9" width="8.24" height="8.24" fill="rgb(217,217,217)"/>
<rect x="147.59" y="162.9" width="8.24" height="8.24" fill="rgb(202,202,202)"/>
<rect x="155.84" y="162.9" width="8.24" height="8.24" fill="rgb(193,193,193)"/>
<rect x="164.08" y="162.9" width="8.24" height="8.24" fill="rgb(192,192,192)"/>
<rect x="172.33" y="162.9" width="8.24" height="8.24" fill="rgb(201,201,201)"/>
<rect x="180.57" y="162.9" width="8.24" height="8.24" fill="rgb(219,219,219)"/>
<rect x="188.81" y="162.9" width="8.24" height="8.24" fill="rgb(239,239,239)"/>
<rect x="197.06" y="162.9" width="8.24" height="8.24" fill="rgb(250,250,250)"/>
<rect x="205.3" y="162.9" width="8.24" height="8.24" fill="rgb(254,254,254)"/>
<rect x="213.54" y="162.9" width="8.24" height="8.24" fill="rgb(253,253,253)"/>
<rect x="221.79" y="162.9" width="8.24" height="8.24" fill="rgb(249,249,249)"/>
<rect x="230.03" y="162.9" width="8.24" height="8.24" fill="rgb(232,232,232)"/>
<rect x="238.28" y="162.9" width="8.24" height="8.24" fill="rgb(201,201,201)"/>
<rect x="246.52" y="162.9" width="8.24" height="8.24" fill="rgb(173,173,173)"/>
<rect x="254.76" y="162.9" width="8.24" height="8.24" fill="rgb(155,155,155)"/>
<rect x="263.01" y="162.9" width="8.24" height="8.24" fill="rgb(144,144,144)"/>
<rect x="271.25" y="162.9" width="8.24" height="8.24" fill="rgb(137,137,137)"/>
<rect x="279.49" y="162.9" width="8.24" height="8.24" fill="rgb(134,134,134)"/>
<rect x="287.74" y="162.9" width="8.24" height="8.24" fill="rgb(132,132,132)"/>
<rect x="295.98" y="162.9" width="8.24" height="8.24" fill="rgb(131,131,131)"/>
<rect x="304.23" y="162.9" width="16.49" height="8.24" fill="rgb(130,130,130)"/>
<rect x="320.71" y="162.9" width="16.49" height="8.24" fill="rgb(131,131,131)"/>
<rect x="73.4" y="171.14" width="8.24" height="8.24" fill="rgb(234,234,234)"/>
<rect x="81.64" y="171.14" width="8.24" height="8.24" fill="rgb(244,244,244)"/>
<rect x="89.89" y="171.14" width="8.24" height="8.24" fill="rgb(249,249,249)"/>
<rect x="98.13" y="171.14" width="8.24" height="8.24" fill="rgb(251,251,251)"/>
<rect x="106.38" y="171.14" width="8.24" height="8.24" fill="rgb(250,250,250)"/>
<rect x="114.62" y="171.14" width="8.24" height="8.24" fill="rgb(247,247,247)"/>
<rect x="122.86" y="171.14" width="8.24" height="8.24" fill="rgb(240,240,240)"/>
<rect x="131.11" y="171.14" width="8.24" height="8.24" fill="rgb(227,227,227)"/>
<rect x="139.35" y="171.14" width="8.24" height="8.24" fill="rgb(211,211,211)"/>
<rect x="147.59" y="171.14" width="8.24" height="8.24" fill="rgb(198,198,198)"/>
<rect x="155.84" y="171.14" width="16.49" height="8.24" fill="rgb(190,190,190)"/>
<rect x="172.33" y="171.14" width="8.24" height="8.24" fill="rgb(199,199,199)"/>
<rect x="180.57" y="171.14" width="8.24" height="8.24" fill="rgb(217,217,217)"/>
<rect x="188.81" y="171.14" width="8.24" height="8.24" fill="rgb(237,237,237)"/>
<rect x="197.06" y="171.14" width="8.24" height="8.24" fill="rgb(249,249,249)"/>
<rect x="205.3" y="171.14" width="16.49" height="8.24" fill="rgb(253,253,253)"/>
<rect x="221.79" y="171.14" width="8.24" height="8.24" fill="rgb(247,247,247)"/>
<rect x="230.03" y="171.14" width="8.24" height="8.24" fill="rgb(230,230,230)"/>
<rect x="238.28" y="171.14" width="8.24" height="8.24" fill="rgb(199,199,199)"/>
<rect x="246.52" y="171.14" width="8.24" height="8.24" fill="rgb(172,172,172)"/>
<rect x="254.76" y="171.14" width="8.24" height="8.24" fill="rgb(155,155,155)"/>
<rect x="263.01" y="171.14" width="8.24" height="8.24" fill="rgb(144,144,144)"/>
<rect x="271.25" y="171.14" width="8.24" height="8.24" fill="rgb(137,137,137)"/>
<rect x="279.49" y="171.14" width="8.24" height="8.24" fill="rgb(133,133,133)"/>
<rect x="287.74" y="171.14" width="32.98" height="8.24" fill="rgb(130,130,130)"/>
<rect x="320.71" y="171.14" width="16.49" height="8.24" fill="rgb(131,131,131)"/>
<rect x="73.4" y="179.39" width="8.24" height="8.24" fill="rgb(214,214,214)"/>
<rect x="81.64" y="179.39" width="8.24" height="8.24" fill="rgb(226,226,226)"/>
<rect x="89.89" y="179.39" width="8.24" height="8.24" fill="rgb(234,234,234)"/>
<rect x="98.13" y="179.39" width="8.24" height="8.24" fill="rgb(237,237,237)"/>
<rect x="106.38" y="179.39" width="8.24" height="8.24" fill="rgb(236,236,236)"/>
<rect x="114.62" y="179.39" width="8.24" height="8.24" fill="rgb(231,231,231)"/>
<rect x="122.86" y="179.39" width="8.24" height="8.24" fill="rgb(221,221,221)"/>
<rect x="131.11" y="179.39" width="8.24" height="8.24" fill="rgb(208,208,208)"/>
<rect x="139.35" y="179.39" width="8.24" height="8.24" fill="rgb(196,196,196)"/>
<rect x="147.59" y="179.39" width="8.24" height="8.24" fill="rgb(186,186,186)"/>
<rect x="155.84" y="179.39" width="8.24" height="8.24" fill="rgb(181,181,181)"/>
<rect x="164.08" y="179.39" width="8.24" height="8.24" fill="rgb(182,182,182)"/>
<rect x="172.33" y="179.39" width="8.24" height="8.24" fill="rgb(190,190,190)"/>
<rect x="180.57" y="179.39" width="8.24" height="8.24" fill="rgb(206,206,206)"/>
<rect x="188.81" y="179.39" width="8.24" height="8.24" fill="rgb(226,226,226)"/>
<rect x="197.06" y="179.39" width="8.24" height="8.24" fill="rgb(241,241,241)"/>
<rect x="205.3" y="179.39" width="8.24" height="8.24" fill="rgb(247,247,247)"/>
<rect x="213.54" y="179.39" width="8.24" height="8.24" fill="rgb(246,246,246)"/>
<rect x="221.79" y="179.39" width="8.24" height="8.24" fill="rgb(238,238,238)"/>
<rect x="230.03" y="179.39" width="8.24" height="8.24" fill="rgb(217,217,217)"/>
<rect x="238.28" y="179.39" width="8.24" height="8.24" fill="rgb(189,189,189)"/>
<rect x="246.52" y="179.39" width="8.24" height="8.24" fill="rgb(167,167,167)"/>
<rect x="254.76" y="179.39" width="8.24" height="8.24" fill="rgb(152,152,152)"/>
<rect x="263.01" y="179.39" width="8.24" height="8.24" fill="rgb(142,142,142)"/>
<rect x="271.25" y="179.39" width="8.24" height="8.24" fill="rgb(135,135,135)"/>
<rect x="279.49" y="179.39" width="8.24" height="8.24" fill="rgb(130,130,130)"/>
<rect x="287.74" y="179.39" width="24.73" height="8.24" fill="rgb(127,127,127)"/>
<rect x="312.47" y="179.39" width="8.24" height="8.24" fill="rgb(129,129,129)"/>
<rect x="320.71" y="179.39" width="8.24" height="8.24" fill="rgb(130,130,130)"/>
<rect x="328.96" y="179.39" width="8.24" height="8.24" fill="rgb(131,131,131)"/>
<rect x="73.4" y="187.63" width="8.24" height="8.24" fill="rgb(187,187,187)"/>
<rect x="81.64" y="187.63" width="8.24" height="8.24" fill="rgb(195,195,195)"/>
<rect x="89.89" y="187.63" width="8.24" height="8.24" fill="rgb(202,202,202)"/>
<rect x="98.13" y="187.63" width="8.24" height="8.24" fill="rgb(205,205,205)"/>
<rect x="106.38" y="187.63" width="8.24" height="8.24" fill="rgb(204,204,204)"/>
<rect x="114.62" y="187.63" width="8.24" height="8.24" fill="rgb(199,199,199)"/>
<rect x="122.86" y="187.63" width="8.24" height="8.24" fill="rgb(192,192,192)"/>
<rect x="131.11" y="187.63" width="8.24" height="8.24" fill="rgb(184,184,184)"/>
<rect x="139.35" y="187.63" width="8.24" height="8.24" fill="rgb(177,177,177)"/>
<rect x="147.59" y="187.63" width="8.24" height="8.24" fill="rgb(172,172,172)"/>
<rect x="155.84" y="187.63" width="8.24" height="8.24" fill="rgb(170,170,170)"/>
<rect x="164.08" y="187.63" width="8.24" height="8.24" fill="rgb(172,172,172)"/>
<rect x="172.33" y="187.63" width="8.24" height="8.24" fill="rgb(179,179,179)"/>
<rect x="180.57" y="187.63" width="8.24" height="8.24" fill="rgb(190,190,190)"/>
<rect x="188.81" y="187.63" width="8.24" height="8.24" fill="rgb(206,206,206)"/>
<rect x="197.06" y="187.63" width="8.24" height="8.24" fill="rgb(220,220,220)"/>
<rect x="205.3" y="187.63" width="8.24" height="8.24" fill="rgb(228,228,228)"/>
<rect x="213.54" y="187.63" width="8.24" height="8.24" fill="rgb(226,226,226)"/>
<rect x="221.79" y="187.63" width="8.24" height="8.24" fill="rgb(215,215,215)"/>
<rect x="230.03" y="187.63" width="8.24" height="8.24" fill="rgb(196,196,196)"/>
<rect x="238.28" y="187.63" width="8.24" height="8.24" fill="rgb(175,175,175)"/>
<rect x="246.52" y="187.63" width="8.24" height="8.24" fill="rgb(159,159,159)"/>
<rect x="254.76" y="187.63" width="8.24" height="8.24" fill="rgb(147,147,147)"/>
<rect x="263.01" y="187.63" width="8.24" height="8.24" fill="rgb(138,138,138)"/>
<rect x="271.25" y="187.63" width="8.24" height="8.24" fill="rgb(131,131,131)"/>
<rect x="279.49" y="187.63" width="8.24" height="8.24" fill="rgb(126,126,126)"/>
<rect x="287.74" y="187.63" width="8.24" height="8.24" fill="rgb(122,122,122)"/>
<rect x="295.98" y="187.63" width="8.24" height="8.24" fill="rgb(121,121,121)"/>
<rect x="304.23" y="187.63" width="8.24" height="8.24" fill="rgb(123,123,123)"/>
<rect x="312.47" y="187.63" width="8.24" height="8.24" fill="rgb(127,127,127)"/>
<rect x="320.71" y="187.63" width="8.24" height="8.24" fill="rgb(129,129,129)"/>
<rect x="328.96" y="187.63" width="8.24" height="8.24" fill="rgb(131,131,131)"/>
<rect x="73.4" y="195.88" width="8.24" height="8.24" fill="rgb(165,165,165)"/>
<rect x="81.64" y="195.88" width="8.24" height="8.24" fill="rgb(170,170,170)"/>
<rect x="89.89" y="195.88" width="8.24" height="8.24" fill="rgb(173,173,173)"/>
<rect x="98.13" y="195.88" width="8.24" height="8.24" fill="rgb(175,175,175)"/>
<rect x="106.38" y="195.88" width="8.24" height="8.24" fill="rgb(174,174,174)"/>
<rect x="114.62" y="195.88" width="8.24" height="8.24" fill="rgb(172,172,172)"/>
<rect x="122.86" y="195.88" width="8.24" height="8.24" fill="rgb(168,168,168)"/>
<rect x="131.11" y="195.88" width="8.24" height="8.24" fill="rgb(165,165,165)"/>
<rect x="139.35" y="195.88" width="8.24" height="8.24" fill="rgb(162,162,162)"/>
<rect x="147.59" y="195.88" width="16.49" height="8.24" fill="rgb(160,160,160)"/>
<rect x="164.08" y="195.88" width="8.24" height="8.24" fill="rgb(163,163,163)"/>
<rect x="172.33" y="195.88" width="8.24" height="8.24" fill="rgb(167,167,167)"/>
<rect x="180.57" y="195.88" width="8.24" height="8.24" fill="rgb(175,175,175)"/>
<rect x="188.81" y="195.88" width="8.24" height="8.24" fill="rgb(184,184,184)"/>
<rect x="197.06" y="195.88" width="8.24" height="8.24" fill="rgb(192,192,192)"/>
<rect x="205.3" y="195.88" width="8.24" height="8.24" fill="rgb(197,197,197)"/>
<rect x="213.54" y="195.88" width="8.24" height="8.24" fill="rgb(195,195,195)"/>
<rect x="221.79" y="195.88" width="8.24" height="8.24" fill="rgb(187,187,187)"/>
<rect x="230.03" y="195.88" width="8.24" height="8.24" fill="rgb(174,174,174)"/>
<rect x="238.28" y="195.88" width="8.24" height="8.24" fill="rgb(162,162,162)"/>
<rect x="246.52" y="195.88" width="8.24" height="8.24" fill="rgb(151,151,151)"/>
<rect x="254.76" y="195.88" width="8.24" height="8.24" fill="rgb(142,142,142)"/>
<rect x="263.01" y="195.88" width="8.24" height="8.24" fill="rgb(135,135,135)"/>
<rect x="271.25" y="195.88" width="8.24" height="8.24" fill="rgb(127,127,127)"/>
<rect x="279.49" y="195.88" width="8.24" height="8.24" fill="rgb(120,120,120)"/>
<rect x="287.74" y="195.88" width="16.49" height="8.24" fill="rgb(115,115,115)"/>
<rect x="304.23" y="195.88" width="8.24" height="8.24" fill="rgb(119,119,119)"/>
<rect x="312.47" y="195.88" width="8.24" height="8.24" fill="rgb(124,124,124)"/>
<rect x="320.71" y="195.88" width="8.24" height="8.24" fill="rgb(128,128,128)"/>
<rect x="328.96" y="195.88" width="8.24" height="8.24" fill="rgb(130,130,130)"/>
<rect x="73.4" y="204.12" width="8.24" height="8.24" fill="rgb(151,151,151)"/>
<rect x="81.64" y="204.12" width="8.24" height="8.24" fill="rgb(154,154,154)"/>
<rect x="89.89" y="204.12" width="8.24" height="8.24" fill="rgb(155,155,155)"/>
<rect x="98.13" y="204.12" width="16.49" height="8.24" fill="rgb(156,156,156)"/>
<rect x="114.62" y="204.12" width="8.24" height="8.24" fill="rgb(155,155,155)"/>
<rect x="122.86" y="204.12" width="8.24" height="8.24" fill="rgb(153,153,153)"/>
<rect x="131.11" y="204.12" width="8.24" height="8.24" fill="rgb(152,152,152)"/>
<rect x="139.35" y="204.12" width="16.49" height="8.24" fill="rgb(151,151,151)"/>
<rect x="155.84" y="204.12" width="8.24" height="8.24" fill="rgb(153,153,153)"/>
<rect x="164.08" y="204.12" width="8.24" height="8.24" fill="rgb(155,155,155)"/>
<rect x="172.33" y="204.12" width="8.24" height="8.24" fill="rgb(159,159,159)"/>
<rect x="180.57" y="204.12" width="8.24" height="8.24" fill="rgb(163,163,163)"/>
<rect x="188.81" y="204.12" width="8.24" height="8.24" fill="rgb(167,167,167)"/>
<rect x="197.06" y="204.12" width="8.24" height="8.24" fill="rgb(171,171,171)"/>
<rect x="205.3" y="204.12" width="8.24" height="8.24" fill="rgb(172,172,172)"/>
<rect x="213.54" y="204.12" width="8.24" height="8.24" fill="rgb(170,170,170)"/>
<rect x="221.79" y="204.12" width="8.24" height="8.24" fill="rgb(165,165,165)"/>
<rect x="230.03" y="204.12" width="8.24" height="8.24" fill="rgb(158,158,158)"/>
<rect x="238.28" y="204.12" width="8.24" height="8.24" fill="rgb(151,151,151)"/>
<rect x="246.52" y="204.12" width="8.24" height="8.24" fill="rgb(144,144,144)"/>
<rect x="254.76" y="204.12" width="8.24" height="8.24" fill="rgb(138,138,138)"/>
<rect x="263.01" y="204.12" width="8.24" height="8.24" fill="rgb(132,132,132)"/>
<rect x="271.25" y="204.12" width="8.24" height="8.24" fill="rgb(125,125,125)"/>
<rect x="279.49" y="204.12" width="8.24" height="8.24" fill="rgb(117,117,117)"/>
<rect x="287.74" y="204.12" width="16.49" height="8.24" fill="rgb(112,112,112)"/>
<rect x="304.23" y="204.12" width="8.24" height="8.24" fill="rgb(116,116,116)"/>
<rect x="312.47" y="204.12" width="8.24" height="8.24" fill="rgb(122,122,122)"/>
<rect x="320.71" y="204.12" width="8.24" height="8.24" fill="rgb(128,128,128)"/>
<rect x="328.96" y="204.12" width="8.24" height="8.24" fill="rgb(131,131,131)"/>
<rect x="73.4" y="212.36" width="8.24" height="8.24" fill="rgb(143,143,143)"/>
<rect x="81.64" y="212.36" width="8.24" height="8.24" fill="rgb(145,145,145)"/>
<rect x="89.89" y="212.36" width="32.98" height="8.24" fill="rgb(146,146,146)"/>
<rect x="122.86" y="212.36" width="8.24" height="8.24" fill="rgb(145,145,145)"/>
<rect x="131.11" y="212.36" width="8.24" height="8.24" fill="rgb(144,144,144)"/>
<rect x="139.35" y="212.36" width="8.24" height="8.24" fill="rgb(145,145,145)"/>
<rect x="147.59" y="212.36" width="8.24" height="8.24" fill="rgb(146,146,146)"/>
<rect x="155.84" y="212.36" width="8.24" height="8.24" fill="rgb(148,148,148)"/>
<rect x="164.08" y="212.36" width="8.24" height="8.24" fill="rgb(151,151,151)"/>
<rect x="172.33" y="212.36" width="8.24" height="8.24" fill="rgb(153,153,153)"/>
<rect x="180.57" y="212.36" width="8.24" height="8.24" fill="rgb(155,155,155)"/>
<rect x="188.81" y="212.36" width="24.73" height="8.24" fill="rgb(157,157,157)"/>
<rect x="213.54" y="212.36" width="8.24" height="8.24" fill="rgb(154,154,154)"/>
<rect x="221.79" y="212.36" width="8.24" height="8.24" fill="rgb(151,151,151)"/>
<rect x="230.03" y="212.36" width="8.24" height="8.24" fill="rgb(147,147,147)"/>
<rect x="238.28" y="212.36" width="8.24" height="8.24" fill="rgb(143,143,143)"/>
<rect x="246.52" y="212.36" width="8.24" height="8.24" fill="rgb(139,139,139)"/>
<rect x="254.76" y="212.36" width="8.24" height="8.24" fill="rgb(136,136,136)"/>
<rect x="263.01" y="212.36" width="8.24" height="8.24" fill="rgb(131,131,131)"/>
<rect x="271.25" y="212.36" width="8.24" height="8.24" fill="rgb(125,125,125)"/>
<rect x="279.49" y="212.36" width="8.24" height="8.24" fill="rgb(119,119,119)"/>
<rect x="287.74" y="212.36" width="16.49" height="8.24" fill="rgb(114,114,114)"/>
<rect x="304.23" y="212.36" width="8.24" height="8.24" fill="rgb(118,118,118)"/>
<rect x="312.47" y="212.36" width="8.24" height="8.24" fill="rgb(124,124,124)"/>
<rect x="320.71" y="212.36" width="8.24" height="8.24" fill="rgb(129,129,129)"/>
<rect x="328.96" y="212.36" width="8.24" height="8.24" fill="rgb(131,131,131)"/>
<rect x="73.4" y="220.61" width="8.24" height="8.24" fill="rgb(139,139,139)"/>
<rect x="81.64" y="220.61" width="8.24" height="8.24" fill="rgb(141,141,141)"/>
<rect x="89.89" y="220.61" width="24.73" height="8.24" fill="rgb(142,142,142)"/>
<rect x="114.62" y="220.61" width="16.49" height="8.24" fill="rgb(141,141,141)"/>
<rect x="131.11" y="220.61" width="8.24" height="8.24" fill="rgb(140,140,140)"/>
<rect x="139.35" y="220.61" width="8.24" height="8.24" fill="rgb(141,141,141)"/>
<rect x="147.59" y="220.61" width="8.24" height="8.24" fill="rgb(143,143,143)"/>
<rect x="155.84" y="220.61" width="8.24" height="8.24" fill="rgb(145,145,145)"/>
<rect x="164.08" y="220.61" width="8.24" height="8.24" fill="rgb(148,148,148)"/>
<rect x="172.33" y="220.61" width="8.24" height="8.24" fill="rgb(150,150,150)"/>
<rect x="180.57" y="220.61" width="8.24" height="8.24" fill="rgb(151,151,151)"/>
<rect x="188.81" y="220.61" width="8.24" height="8.24" fill="rgb(150,150,150)"/>
<rect x="197.06" y="220.61" width="8.24" height="8.24" fill="rgb(149,149,149)"/>
<rect x="205.3" y="220.61" width="8.24" height="8.24" fill="rgb(147,147,147)"/>
<rect x="213.54" y="220.61" width="8.24" height="8.24" fill="rgb(144,144,144)"/>
<rect x="221.79" y="220.61" width="8.24" height="8.24" fill="rgb(142,142,142)"/>
<rect x="230.03" y="220.61" width="8.24" height="8.24" fill="rgb(139,139,139)"/>
<rect x="238.28" y="220.61" width="8.24" height="8.24" fill="rgb(137,137,137)"/>
<rect x="246.52" y="220.61" width="8.24" height="8.24" fill="rgb(136,136,136)"/>
<rect x="254.76" y="220.61" width="8.24" height="8.24" fill="rgb(134,134,134)"/>
<rect x="263.01" y="220.61" width="8.24" height="8.24" fill="rgb(132,132,132)"/>
<rect x="271.25" y="220.61" width="8.24" height="8.24" fill="rgb(128,128,128)"/>
<rect x="279.49" y="220.61" width="8.24" height="8.24" fill="rgb(124,124,124)"/>
<rect x="287.74" y="220.61" width="16.49" height="8.24" fill="rgb(121,121,121)"/>
<rect x="304.23" y="220.61" width="8.24" height="8.24" fill="rgb(124,124,124)"/>
<rect x="312.47" y="220.61" width="8.24" height="8.24" fill="rgb(128,128,128)"/>
<rect x="320.71" y="220.61" width="8.24" height="8.24" fill="rgb(132,132,132)"/>
<rect x="328.96" y="220.61" width="8.24" height="8.24" fill="rgb(133,133,133)"/>
<rect x="73.4" y="228.85" width="8.24" height="8.24" fill="rgb(138,138,138)"/>
<rect x="81.64" y="228.85" width="8.24" height="8.24" fill="rgb(139,139,139)"/>
<rect x="89.89" y="228.85" width="8.24" height="8.24" fill="rgb(140,140,140)"/>
<rect x="98.13" y="228.85" width="16.49" height="8.24" fill="rgb(141,141,141)"/>
<rect x="114.62" y="228.85" width="8.24" height="8.24" fill="rgb(140,140,140)"/>
<rect x="122.86" y="228.85" width="24.73" height="8.24" fill="rgb(139,139,139)"/>
<rect x="147.59" y="228.85" width="8.24" height="8.24" fill="rgb(141,141,141)"/>
<rect x="155.84" y="228.85" width="8.24" height="8.24" fill="rgb(143,143,143)"/>
<rect x="164.08" y="228.85" width="8.24" height="8.24" fill="rgb(145,145,145)"/>
<rect x="172.33" y="228.85" width="16.49" height="8.24" fill="rgb(147,147,147)"/>
<rect x="188.81" y="228.85" width="8.24" height="8.24" fill="rgb(146,146,146)"/>
<rect x="197.06" y="228.85" width="8.24" height="8.24" fill="rgb(143,143,143)"/>
<rect x="205.3" y="228.85" width="8.24" height="8.24" fill="rgb(140,140,140)"/>
<rect x="213.54" y="228.85" width="8.24" height="8.24" fill="rgb(136,136,136)"/>
<rect x="221.79" y="228.85" width="8.24" height="8.24" fill="rgb(133,133,133)"/>
<rect x="230.03" y="228.85" width="8.24" height="8.24" fill="rgb(132,132,132)"/>
<rect x="238.28" y="228.85" width="16.49" height="8.24" fill="rgb(131,131,131)"/>
<rect x="254.76" y="228.85" width="24.73" height="8.24" fill="rgb(132,132,132)"/>
<rect x="279.49" y="228.85" width="8.24" height="8.24" fill="rgb(130,130,130)"/>
<rect x="287.74" y="228.85" width="16.49" height="8.24" fill="rgb(129,129,129)"/>
<rect x="304.23" y="228.85" width="8.24" height="8.24" fill="rgb(131,131,131)"/>
<rect x="312.47" y="228.85" width="8.24" height="8.24" fill="rgb(133,133,133)"/>
<rect x="320.71" y="228.85" width="8.24" height="8.24" fill="rgb(134,134,134)"/>
<rect x="328.96" y="228.85" width="8.24" height="8.24" fill="rgb(135,135,135)"/>
<rect x="73.4" y="237.09" width="8.24" height="8.24" fill="rgb(138,138,138)"/>
<rect x="81.64" y="237.09" width="8.24" height="8.24" fill="rgb(140,140,140)"/>
<rect x="89.89" y="237.09" width="24.73" height="8.24" fill="rgb(141,141,141)"/>
<rect x="114.62" y="237.09" width="8.24" height="8.24" fill="rgb(140,140,140)"/>
<rect x="122.86" y="237.09" width="8.24" height="8.24" fill="rgb(139,139,139)"/>
<rect x="131.11" y="237.09" width="16.49" height="8.24" fill="rgb(138,138,138)"/>
<rect x="147.59" y="237.09" width="8.24" height="8.24" fill="rgb(139,139,139)"/>
<rect x="155.84" y="237.09" width="8.24" height="8.24" fill="rgb(141,141,141)"/>
<rect x="164.08" y="237.09" width="8.24" height="8.24" fill="rgb(143,143,143)"/>
<rect x="172.33" y="237.09" width="16.49" height="8.24" fill="rgb(144,144,144)"/>
<rect x="188.81" y="237.09" width="8.24" height="8.24" fill="rgb(141,141,141)"/>
<rect x="197.06" y="237.09" width="8.24" height="8.24" fill="rgb(137,137,137)"/>
<rect x="205.3" y="237.09" width="8.24" height="8.24" fill="rgb(132,132,132)"/>
<rect x="213.54" y="237.09" width="8.24" height="8.24" fill="rgb(128,128,128)"/>
<rect x="221.79" y="237.09" width="8.24" height="8.24" fill="rgb(124,124,124)"/>
<rect x="230.03" y="237.09" width="8.24" height="8.24" fill="rgb(122,122,122)"/>
<rect x="238.28" y="237.09" width="8.24" height="8.24" fill="rgb(123,123,123)"/>
<rect x="246.52" y="237.09" width="8.24" height="8.24" fill="rgb(125,125,125)"/>
<rect x="254.76" y="237.09" width="8.24" height="8.24" fill="rgb(127,127,127)"/>
<rect x="263.01" y="237.09" width="8.24" height="8.24" fill="rgb(130,130,130)"/>
<rect x="271.25" y="237.09" width="16.49" height="8.24" fill="rgb(132,132,132)"/>
<rect x="287.74" y="237.09" width="16.49" height="8.24" fill="rgb(133,133,133)"/>
<rect x="304.23" y="237.09" width="8.24" height="8.24" fill="rgb(134,134,134)"/>
<rect x="312.47" y="237.09" width="24.73" height="8.24" fill="rgb(135,135,135)"/>
<rect x="73.4" y="245.34" width="8.24" height="8.24" fill="rgb(138,138,138)"/>
<rect x="81.64" y="245.34" width="8.24" height="8.24" fill="rgb(140,140,140)"/>
<rect x="89.89" y="245.34" width="8.24" height="8.24" fill="rgb(141,141,141)"/>
<rect x="98.13" y="245.34" width="16.49" height="8.24" fill="rgb(142,142,142)"/>
<rect x="114.62" y="245.34" width="8.24" height="8.24" fill="rgb(140,140,140)"/>
<rect x="122.86" y="245.34" width="8.24" height="8.24" fill="rgb(139,139,139)"/>
<rect x="131.11" y="245.34" width="8.24" height="8.24" fill="rgb(138,138,138)"/>
<rect x="139.35" y="245.34" width="8.24" height="8.24" fill="rgb(137,137,137)"/>
<rect x="147.59" y="245.34" width="8.24" height="8.24" fill="rgb(138,138,138)"/>
<rect x="155.84" y="245.34" width="8.24" height="8.24" fill="rgb(139,139,139)"/>
<rect x="164.08" y="245.34" width="16.49" height="8.24" fill="rgb(141,141,141)"/>
<rect x="180.57" y="245.34" width="8.24" height="8.24" fill="rgb(140,140,140)"/>
<rect x="188.81" y="245.34" width="8.24" height="8.24" fill="rgb(137,137,137)"/>
<rect x="197.06" y="245.34" width="8.24" height="8.24" fill="rgb(132,132,132)"/>
<rect x="205.3" y="245.34" width="8.24" height="8.24" fill="rgb(126,126,126)"/>
<rect x="213.54" y="245.34" width="8.24" height="8.24" fill="rgb(120,120,120)"/>
<rect x="221.79" y="245.34" width="8.24" height="8.24" fill="rgb(116,116,116)"/>
<rect x="230.03" y="245.34" width="16.49" height="8.24" fill="rgb(114,114,114)"/>
<rect x="246.52" y="245.34" width="8.24" height="8.24" fill="rgb(117,117,117)"/>
<rect x="254.76" y="245.34" width="8.24" height="8.24" fill="rgb(121,121,121)"/>
<rect x="263.01" y="245.34" width="8.24" height="8.24" fill="rgb(125,125,125)"/>
<rect x="271.25" y="245.34" width="8.24" height="8.24" fill="rgb(128,128,128)"/>
<rect x="279.49" y="245.34" width="8.24" height="8.24" fill="rgb(129,129,129)"/>
<rect x="287.74" y="245.34" width="8.24" height="8.24" fill="rgb(130,130,130)"/>
<rect x="295.98" y="245.34" width="8.24" height="8.24" fill="rgb(131,131,131)"/>
<rect x="304.23" y="245.34" width="32.98" height="8.24" fill="rgb(132,132,132)"/>
<rect x="73.4" y="253.58" width="8.24" height="8.24" fill="rgb(142,142,142)"/>
<rect x="81.64" y="253.58" width="8.24" height="8.24" fill="rgb(143,143,143)"/>
<rect x="89.89" y="253.58" width="16.49" height="8.24" fill="rgb(144,144,144)"/>
<rect x="106.38" y="253.58" width="8.24" height="8.24" fill="rgb(145,145,145)"/>
<rect x="114.62" y="253.58" width="8.24" height="8.24" fill="rgb(146,146,146)"/>
<rect x="122.86" y="253.58" width="8.24" height="8.24" fill="rgb(144,144,144)"/>
<rect x="131.11" y="253.58" width="8.24" height="8.24" fill="rgb(143,143,143)"/>
<rect x="139.35" y="253.58" width="8.24" height="8.24" fill="rgb(142,142,142)"/>
<rect x="147.59" y="253.58" width="8.24" height="8.24" fill="rgb(140,140,140)"/>
<rect x="155.84" y="253.58" width="8.24" height="8.24" fill="rgb(142,142,142)"/>
<rect x="164.08" y="253.58" width="8.24" height="8.24" fill="rgb(143,143,143)"/>
<rect x="172.33" y="253.58" width="8.24" height="8.24" fill="rgb(144,144,144)"/>
<rect x="180.57" y="253.58" width="8.24" height="8.24" fill="rgb(146,146,146)"/>
<rect x="188.81" y="253.58" width="8.24" height="8.24" fill="rgb(136,136,136)"/>
<rect x="197.06" y="253.58" width="8.24" height="8.24" fill="rgb(132,132,132)"/>
<rect x="205.3" y="253.58" width="32.98" height="8.24" fill="rgb(116,116,116)"/>
<rect x="238.28" y="253.58" width="24.73" height="8.24" fill="rgb(115,115,115)"/>
<rect x="263.01" y="253.58" width="24.73" height="8.24" fill="rgb(124,124,124)"/>
<rect x="287.74" y="253.58" width="24.73" height="8.24" fill="rgb(125,125,125)"/>
<rect x="312.47" y="253.58" width="24.73" height="8.24" fill="rgb(126,126,126)"/>
<rect x="73.4" y="261.83" width="32.98" height="8.24" fill="rgb(142,142,142)"/>
<rect x="106.38" y="261.83" width="24.73" height="8.24" fill="rgb(141,141,141)"/>
<rect x="131.11" y="261.83" width="65.95" height="8.24" fill="rgb(136,136,136)"/>
<rect x="197.06" y="261.83" width="8.24" height="8.24" fill="rgb(125,125,125)"/>
<rect x="205.3" y="261.83" width="8.24" height="8.24" fill="rgb(110,110,110)"/>
<rect x="213.54" y="261.83" width="8.24" height="8.24" fill="rgb(109,109,109)"/>
<rect x="221.79" y="261.83" width="16.49" height="8.24" fill="rgb(108,108,108)"/>
<rect x="238.28" y="261.83" width="8.24" height="8.24" fill="rgb(107,107,107)"/>
<rect x="246.52" y="261.83" width="24.73" height="8.24" fill="rgb(111,111,111)"/>
<rect x="271.25" y="261.83" width="41.22" height="8.24" fill="rgb(112,112,112)"/>
<rect x="312.47" y="261.83" width="24.73" height="8.24" fill="rgb(113,113,113)"/>
<rect x="73.4" y="270.07" width="41.22" height="8.24" fill="rgb(145,145,145)"/>
<rect x="114.62" y="270.07" width="8.24" height="8.24" fill="rgb(132,132,132)"/>
<rect x="122.86" y="270.07" width="8.24" height="8.24" fill="rgb(128,128,128)"/>
<rect x="131.11" y="270.07" width="24.73" height="8.24" fill="rgb(115,115,115)"/>
<rect x="155.84" y="270.07" width="32.98" height="8.24" fill="rgb(122,122,122)"/>
<rect x="188.81" y="270.07" width="8.24" height="8.24" fill="rgb(116,116,116)"/>
<rect x="197.06" y="270.07" width="8.24" height="8.24" fill="rgb(114,114,114)"/>
<rect x="205.3" y="270.07" width="8.24" height="8.24" fill="rgb(100,100,100)"/>
<rect x="213.54" y="270.07" width="32.98" height="8.24" fill="rgb(86,86,86)"/>
<rect x="246.52" y="270.07" width="32.98" height="8.24" fill="rgb(85,85,85)"/>
<rect x="279.49" y="270.07" width="24.73" height="8.24" fill="rgb(95,95,95)"/>
<rect x="304.23" y="270.07" width="32.98" height="8.24" fill="rgb(96,96,96)"/>
<rect x="73.4" y="278.31" width="41.22" height="8.24" fill="rgb(140,140,140)"/>
<rect x="114.62" y="278.31" width="8.24" height="8.24" fill="rgb(125,125,125)"/>
<rect x="122.86" y="278.31" width="8.24" height="8.24" fill="rgb(105,105,105)"/>
<rect x="131.11" y="278.31" width="8.24" height="8.24" fill="rgb(85,85,85)"/>
<rect x="139.35" y="278.31" width="8.24" height="8.24" fill="rgb(70,70,70)"/>
<rect x="147.59" y="278.31" width="8.24" height="8.24" fill="rgb(65,65,65)"/>
<rect x="155.84" y="278.31" width="8.24" height="8.24" fill="rgb(75,75,75)"/>
<rect x="164.08" y="278.31" width="24.73" height="8.24" fill="rgb(95,95,95)"/>
<rect x="188.81" y="278.31" width="8.24" height="8.24" fill="rgb(90,90,90)"/>
<rect x="197.06" y="278.31" width="8.24" height="8.24" fill="rgb(75,75,75)"/>
<rect x="205.3" y="278.31" width="8.24" height="8.24" fill="rgb(65,65,65)"/>
<rect x="213.54" y="278.31" width="8.24" height="8.24" fill="rgb(50,50,50)"/>
<rect x="221.79" y="278.31" width="74.19" height="8.24" fill="rgb(42,42,42)"/>
<rect x="295.98" y="278.31" width="8.24" height="8.24" fill="rgb(43,43,43)"/>
<rect x="304.23" y="278.31" width="8.24" height="8.24" fill="rgb(44,44,44)"/>
<rect x="312.47" y="278.31" width="8.24" height="8.24" fill="rgb(46,46,46)"/>
<rect x="320.71" y="278.31" width="8.24" height="8.24" fill="rgb(47,47,47)"/>
<rect x="328.96" y="278.31" width="8.24" height="8.24" fill="rgb(48,48,48)"/>
<rect x="73.4" y="286.56" width="32.98" height="8.24" fill="rgb(135,135,135)"/>
<rect x="106.38" y="286.56" width="8.24" height="8.24" fill="rgb(125,125,125)"/>
<rect x="114.62" y="286.56" width="8.24" height="8.24" fill="rgb(105,105,105)"/>
<rect x="122.86" y="286.56" width="8.24" height="8.24" fill="rgb(85,85,85)"/>
<rect x="131.11" y="286.56" width="16.49" height="8.24" fill="rgb(70,70,70)"/>
<rect x="147.59" y="286.56" width="8.24" height="8.24" fill="rgb(80,80,80)"/>
<rect x="155.84" y="286.56" width="24.73" height="8.24" fill="rgb(90,90,90)"/>
<rect x="180.57" y="286.56" width="8.24" height="8.24" fill="rgb(85,85,85)"/>
<rect x="188.81" y="286.56" width="8.24" height="8.24" fill="rgb(75,75,75)"/>
<rect x="197.06" y="286.56" width="8.24" height="8.24" fill="rgb(65,65,65)"/>
<rect x="205.3" y="286.56" width="8.24" height="8.24" fill="rgb(45,45,45)"/>
<rect x="213.54" y="286.56" width="8.24" height="8.24" fill="rgb(30,30,30)"/>
<rect x="221.79" y="286.56" width="8.24" height="8.24" fill="rgb(20,20,20)"/>
<rect x="230.03" y="286.56" width="8.24" height="8.24" fill="rgb(19,19,19)"/>
<rect x="238.28" y="286.56" width="8.24" height="8.24" fill="rgb(18,18,18)"/>
<rect x="246.52" y="286.56" width="8.24" height="8.24" fill="rgb(10,10,10)"/>
<rect x="254.76" y="286.56" width="49.46" height="8.24" fill="rgb(0,0,0)"/>
<rect x="304.23" y="286.56" width="32.98" height="8.24" fill="rgb(8,8,8)"/>
</g>
<rect x="73.4" y="31" width="263.8" height="263.8" fill="none" stroke="#333" stroke-width="1"/>
<line x1="77.52" y1="294.8" x2="77.52" y2="298.8" stroke="#222" stroke-width="1.1"/>
<text x="77.52" y="311.9" font-size="13.2" text-anchor="middle" font-family='"DejaVu Sans","Liberation Sans",sans-serif' fill="#262626" >0</text>
<line x1="159.96" y1="294.8" x2="159.96" y2="298.8" stroke="#222" stroke-width="1.1"/>
<text x="159.96" y="311.9" font-size="13.2" text-anchor="middle" font-family='"DejaVu Sans","Liberation Sans",sans-serif' fill="#262626" >10</text>
<line x1="242.4" y1="294.8" x2="242.4" y2="298.8" stroke="#222" stroke-width="1.1"/>
<text x="242.4" y="311.9" font-size="13.2" text-anchor="middle" font-family='"DejaVu Sans","Liberation Sans",sans-serif' fill="#262626" >20</text>
<line x1="324.83" y1="294.8" x2="324.83" y2="298.8" stroke="#222" stroke-width="1.1"/>
<text x="324.83" y="311.9" font-size="13.2" text-anchor="middle" font-family='"DejaVu Sans","Liberation Sans",sans-serif' fill="#262626" >30</text>
<line x1="69.4" y1="35.12" x2="73.4" y2="35.12" stroke="#222" stroke-width="1.1"/>
<text x="64.8" y="39.44" font-size="13.2" text-anchor="end" font-family='"DejaVu Sans","Liberation Sans",sans-serif' fill="#262626" >0</text>
<line x1="69.4" y1="76.34" x2="73.4" y2="76.34" stroke="#222" stroke-width="1.1"/>
<text x="64.8" y="80.66" font-size="13.2" text-anchor="end" font-family='"DejaVu Sans","Liberation Sans",sans-serif' fill="#262626" >5</text>
<line x1="69.4" y1="117.56" x2="73.4" y2="117.56" stroke="#222" stroke-width="1.1"/>
<text x="64.8" y="121.88" font-size="13.2" text-anchor="end" font-family='"DejaVu Sans","Liberation Sans",sans-serif' fill="#262626" >10</text>
<line x1="69.4" y1="158.78" x2="73.4" y2="158.78" stroke="#222" stroke-width="1.1"/>
<text x="64.8" y="163.1" font-size="13.2" text-anchor="end" font-family='"DejaVu Sans","Liberation Sans",sans-serif' fill="#262626" >15</text>
<line x1="69.4" y1="200" x2="73.4" y2="200" stroke="#222" stroke-width="1.1"/>
<text x="64.8" y="204.31" font-size="13.2" text-anchor="end" font-family='"DejaVu Sans","Liberation Sans",sans-serif' fill="#262626" >20</text>
<line x1="69.4" y1="241.22" x2="73.4" y2="241.22" stroke="#222" stroke-width="1.1"/>
<text x="64.8" y="245.53" font-size="13.2" text-anchor="end" font-family='"DejaVu Sans","Liberation Sans",sans-serif' fill="#262626" >25</text>
<line x1="69.4" y1="282.43" x2="73.4" y2="282.43" stroke="#222" stroke-width="1.1"/>
<text x="64.8" y="286.75" font-size="13.2" text-anchor="end" font-family='"DejaVu Sans","Liberation Sans",sans-serif' fill="#262626" >30</text>
<text x="205.3" y="24.6" font-size="20.8" text-anchor="middle" font-family='"DejaVu Sans","Liberation Sans",sans-serif' fill="#1a1a1a" >Original image</text>
<linearGradient id="ga" x1="0" x2="1" y1="0" y2="0"><stop offset="0" stop-color="#000"/><stop offset="1" stop-color="#fff"/></linearGradient>
<rect x="73.4" y="335.9" width="263.8" height="12.5" fill="url(#ga)" stroke="#222" stroke-width="1"/>
<line x1="117.09" y1="348.4" x2="117.09" y2="352.2" stroke="#222" stroke-width="1.1"/>
<text x="117.09" y="365.6" font-size="11.3" text-anchor="middle" font-family='"DejaVu Sans","Liberation Sans",sans-serif' fill="#262626" >−400</text>
<line x1="177.77" y1="348.4" x2="177.77" y2="352.2" stroke="#222" stroke-width="1.1"/>
<text x="177.77" y="365.6" font-size="11.3" text-anchor="middle" font-family='"DejaVu Sans","Liberation Sans",sans-serif' fill="#262626" >−200</text>
<line x1="238.45" y1="348.4" x2="238.45" y2="352.2" stroke="#222" stroke-width="1.1"/>
<text x="238.45" y="365.6" font-size="11.3" text-anchor="middle" font-family='"DejaVu Sans","Liberation Sans",sans-serif' fill="#262626" >0</text>
<line x1="299.12" y1="348.4" x2="299.12" y2="352.2" stroke="#222" stroke-width="1.1"/>
<text x="299.12" y="365.6" font-size="11.3" text-anchor="middle" font-family='"DejaVu Sans","Liberation Sans",sans-serif' fill="#262626" >200</text>
<text x="204.5" y="395.5" font-size="13.85" text-anchor="middle" font-family='"DejaVu Sans","Liberation Sans",sans-serif' fill="#262626" >Intensity (HU)</text>
<text x="208.5" y="412.5" font-size="23" text-anchor="middle" font-family='"Liberation Sans","DejaVu Sans",sans-serif' fill="#111" >(a)</text>
<rect x="438.4" y="25.5" width="263.7" height="263.7" fill="rgb(0,0,0)"/>
<g shape-rendering="crispEdges">
<rect x="438.4" y="25.5" width="263.7" height="8.24" fill="rgb(0,0,0)"/>
<rect x="438.4" y="33.74" width="263.7" height="8.24" fill="rgb(0,0,0)"/>
<rect x="438.4" y="41.98" width="263.7" height="8.24" fill="rgb(0,0,0)"/>
<rect x="438.4" y="50.22" width="263.7" height="8.24" fill="rgb(0,0,0)"/>
<rect x="438.4" y="58.46" width="263.7" height="8.24" fill="rgb(0,0,0)"/>
<rect x="438.4" y="66.7" width="263.7" height="8.24" fill="rgb(0,0,0)"/>
<rect x="438.4" y="74.94" width="263.7" height="8.24" fill="rgb(0,0,0)"/>
<rect x="438.4" y="83.18" width="263.7" height="8.24" fill="rgb(0,0,0)"/>
<rect x="438.4" y="91.42" width="263.7" height="8.24" fill="rgb(0,0,0)"/>
<rect x="438.4" y="99.67" width="263.7" height="8.24" fill="rgb(0,0,0)"/>
<rect x="438.4" y="107.91" width="263.7" height="8.24" fill="rgb(0,0,0)"/>
<rect x="438.4" y="116.15" width="115.37" height="8.24" fill="rgb(0,0,0)"/>
<rect x="553.77" y="116.15" width="8.24" height="8.24" fill="rgb(50,50,50)"/>
<rect x="562.01" y="116.15" width="8.24" height="8.24" fill="rgb(75,75,75)"/>
<rect x="570.25" y="116.15" width="16.48" height="8.24" fill="rgb(90,90,90)"/>
<rect x="586.73" y="116.15" width="8.24" height="8.24" fill="rgb(75,75,75)"/>
<rect x="594.97" y="116.15" width="8.24" height="8.24" fill="rgb(50,50,50)"/>
<rect x="603.21" y="116.15" width="98.89" height="8.24" fill="rgb(0,0,0)"/>
<rect x="438.4" y="124.39" width="107.13" height="8.24" fill="rgb(0,0,0)"/>
<rect x="545.53" y="124.39" width="8.24" height="8.24" fill="rgb(70,70,70)"/>
<rect x="553.77" y="124.39" width="8.24" height="8.24" fill="rgb(105,105,105)"/>
<rect x="562.01" y="124.39" width="8.24" height="8.24" fill="rgb(130,130,130)"/>
<rect x="570.25" y="124.39" width="16.48" height="8.24" fill="rgb(140,140,140)"/>
<rect x="586.73" y="124.39" width="8.24" height="8.24" fill="rgb(125,125,125)"/>
<rect x="594.97" y="124.39" width="8.24" height="8.24" fill="rgb(95,95,95)"/>
<rect x="603.21" y="124.39" width="98.89" height="8.24" fill="rgb(0,0,0)"/>
<rect x="438.4" y="132.63" width="107.13" height="8.24" fill="rgb(0,0,0)"/>
<rect x="545.53" y="132.63" width="8.24" height="8.24" fill="rgb(110,110,110)"/>
<rect x="553.77" y="132.63" width="8.24" height="8.24" fill="rgb(145,145,145)"/>
<rect x="562.01" y="132.63" width="8.24" height="8.24" fill="rgb(165,165,165)"/>
<rect x="570.25" y="132.63" width="16.48" height="8.24" fill="rgb(175,175,175)"/>
<rect x="586.73" y="132.63" width="8.24" height="8.24" fill="rgb(160,160,160)"/>
<rect x="594.97" y="132.63" width="8.24" height="8.24" fill="rgb(135,135,135)"/>
<rect x="603.21" y="132.63" width="8.24" height="8.24" fill="rgb(95,95,95)"/>
<rect x="611.45" y="132.63" width="90.65" height="8.24" fill="rgb(0,0,0)"/>
<rect x="438.4" y="140.87" width="107.13" height="8.24" fill="rgb(0,0,0)"/>
<rect x="545.53" y="140.87" width="8.24" height="8.24" fill="rgb(140,140,140)"/>
<rect x="553.77" y="140.87" width="8.24" height="8.24" fill="rgb(175,175,175)"/>
<rect x="562.01" y="140.87" width="8.24" height="8.24" fill="rgb(195,195,195)"/>
<rect x="570.25" y="140.87" width="16.48" height="8.24" fill="rgb(205,205,205)"/>
<rect x="586.73" y="140.87" width="8.24" height="8.24" fill="rgb(190,190,190)"/>
<rect x="594.97" y="140.87" width="8.24" height="8.24" fill="rgb(160,160,160)"/>
<rect x="603.21" y="140.87" width="8.24" height="8.24" fill="rgb(125,125,125)"/>
<rect x="611.45" y="140.87" width="8.24" height="8.24" fill="rgb(85,85,85)"/>
<rect x="619.69" y="140.87" width="82.41" height="8.24" fill="rgb(0,0,0)"/>
<rect x="438.4" y="149.11" width="107.13" height="8.24" fill="rgb(0,0,0)"/>
<rect x="545.53" y="149.11" width="8.24" height="8.24" fill="rgb(150,150,150)"/>
<rect x="553.77" y="149.11" width="8.24" height="8.24" fill="rgb(190,190,190)"/>
<rect x="562.01" y="149.11" width="8.24" height="8.24" fill="rgb(220,220,220)"/>
<rect x="570.25" y="149.11" width="8.24" height="8.24" fill="rgb(235,235,235)"/>
<rect x="578.49" y="149.11" width="8.24" height="8.24" fill="rgb(230,230,230)"/>
<rect x="586.73" y="149.11" width="8.24" height="8.24" fill="rgb(210,210,210)"/>
<rect x="594.97" y="149.11" width="8.24" height="8.24" fill="rgb(175,175,175)"/>
<rect x="603.21" y="149.11" width="8.24" height="8.24" fill="rgb(140,140,140)"/>
<rect x="611.45" y="149.11" width="8.24" height="8.24" fill="rgb(100,100,100)"/>
<rect x="619.69" y="149.11" width="82.41" height="8.24" fill="rgb(0,0,0)"/>
<rect x="438.4" y="157.35" width="107.13" height="8.24" fill="rgb(0,0,0)"/>
<rect x="545.53" y="157.35" width="8.24" height="8.24" fill="rgb(150,150,150)"/>
<rect x="553.77" y="157.35" width="8.24" height="8.24" fill="rgb(195,195,195)"/>
<rect x="562.01" y="157.35" width="8.24" height="8.24" fill="rgb(235,235,235)"/>
<rect x="570.25" y="157.35" width="8.24" height="8.24" fill="rgb(255,255,255)"/>
<rect x="578.49" y="157.35" width="8.24" height="8.24" fill="rgb(252,252,252)"/>
<rect x="586.73" y="157.35" width="8.24" height="8.24" fill="rgb(225,225,225)"/>
<rect x="594.97" y="157.35" width="8.24" height="8.24" fill="rgb(185,185,185)"/>
<rect x="603.21" y="157.35" width="8.24" height="8.24" fill="rgb(145,145,145)"/>
<rect x="611.45" y="157.35" width="8.24" height="8.24" fill="rgb(100,100,100)"/>
<rect x="619.69" y="157.35" width="82.41" height="8.24" fill="rgb(0,0,0)"/>
<rect x="438.4" y="165.59" width="107.13" height="8.24" fill="rgb(0,0,0)"/>
<rect x="545.53" y="165.59" width="8.24" height="8.24" fill="rgb(130,130,130)"/>
<rect x="553.77" y="165.59" width="8.24" height="8.24" fill="rgb(185,185,185)"/>
<rect x="562.01" y="165.59" width="8.24" height="8.24" fill="rgb(230,230,230)"/>
<rect x="570.25" y="165.59" width="8.24" height="8.24" fill="rgb(255,255,255)"/>
<rect x="578.49" y="165.59" width="8.24" height="8.24" fill="rgb(250,250,250)"/>
<rect x="586.73" y="165.59" width="8.24" height="8.24" fill="rgb(220,220,220)"/>
<rect x="594.97" y="165.59" width="8.24" height="8.24" fill="rgb(180,180,180)"/>
<rect x="603.21" y="165.59" width="8.24" height="8.24" fill="rgb(135,135,135)"/>
<rect x="611.45" y="165.59" width="8.24" height="8.24" fill="rgb(95,95,95)"/>
<rect x="619.69" y="165.59" width="82.41" height="8.24" fill="rgb(0,0,0)"/>
<rect x="438.4" y="173.83" width="115.37" height="8.24" fill="rgb(0,0,0)"/>
<rect x="553.77" y="173.83" width="8.24" height="8.24" fill="rgb(150,150,150)"/>
<rect x="562.01" y="173.83" width="8.24" height="8.24" fill="rgb(200,200,200)"/>
<rect x="570.25" y="173.83" width="8.24" height="8.24" fill="rgb(230,230,230)"/>
<rect x="578.49" y="173.83" width="8.24" height="8.24" fill="rgb(228,228,228)"/>
<rect x="586.73" y="173.83" width="8.24" height="8.24" fill="rgb(200,200,200)"/>
<rect x="594.97" y="173.83" width="8.24" height="8.24" fill="rgb(160,160,160)"/>
<rect x="603.21" y="173.83" width="8.24" height="8.24" fill="rgb(115,115,115)"/>
<rect x="611.45" y="173.83" width="90.65" height="8.24" fill="rgb(0,0,0)"/>
<rect x="438.4" y="182.07" width="115.37" height="8.24" fill="rgb(0,0,0)"/>
<rect x="553.77" y="182.07" width="8.24" height="8.24" fill="rgb(110,110,110)"/>
<rect x="562.01" y="182.07" width="8.24" height="8.24" fill="rgb(160,160,160)"/>
<rect x="570.25" y="182.07" width="16.48" height="8.24" fill="rgb(185,185,185)"/>
<rect x="586.73" y="182.07" width="8.24" height="8.24" fill="rgb(160,160,160)"/>
<rect x="594.97" y="182.07" width="107.13" height="8.24" fill="rgb(0,0,0)"/>
<rect x="438.4" y="190.31" width="263.7" height="8.24" fill="rgb(0,0,0)"/>
<rect x="438.4" y="198.55" width="263.7" height="8.24" fill="rgb(0,0,0)"/>
<rect x="438.4" y="206.79" width="263.7" height="8.24" fill="rgb(0,0,0)"/>
<rect x="438.4" y="215.03" width="263.7" height="8.24" fill="rgb(0,0,0)"/>
<rect x="438.4" y="223.27" width="263.7" height="8.24" fill="rgb(0,0,0)"/>
<rect x="438.4" y="231.52" width="263.7" height="8.24" fill="rgb(0,0,0)"/>
<rect x="438.4" y="239.76" width="263.7" height="8.24" fill="rgb(0,0,0)"/>
<rect x="438.4" y="248" width="263.7" height="8.24" fill="rgb(0,0,0)"/>
<rect x="438.4" y="256.24" width="263.7" height="8.24" fill="rgb(0,0,0)"/>
<rect x="438.4" y="264.48" width="263.7" height="8.24" fill="rgb(0,0,0)"/>
<rect x="438.4" y="272.72" width="263.7" height="8.24" fill="rgb(0,0,0)"/>
<rect x="438.4" y="280.96" width="263.7" height="8.24" fill="rgb(0,0,0)"/>
</g>
<rect x="438.4" y="25.5" width="263.7" height="263.7" fill="none" stroke="#333" stroke-width="1"/>
<line x1="442.52" y1="289.2" x2="442.52" y2="293.2" stroke="#222" stroke-width="1.1"/>
<text x="442.52" y="306.3" font-size="13.2" text-anchor="middle" font-family='"DejaVu Sans","Liberation Sans",sans-serif' fill="#262626" >0</text>
<line x1="524.93" y1="289.2" x2="524.93" y2="293.2" stroke="#222" stroke-width="1.1"/>
<text x="524.93" y="306.3" font-size="13.2" text-anchor="middle" font-family='"DejaVu Sans","Liberation Sans",sans-serif' fill="#262626" >10</text>
<line x1="607.33" y1="289.2" x2="607.33" y2="293.2" stroke="#222" stroke-width="1.1"/>
<text x="607.33" y="306.3" font-size="13.2" text-anchor="middle" font-family='"DejaVu Sans","Liberation Sans",sans-serif' fill="#262626" >20</text>
<line x1="689.74" y1="289.2" x2="689.74" y2="293.2" stroke="#222" stroke-width="1.1"/>
<text x="689.74" y="306.3" font-size="13.2" text-anchor="middle" font-family='"DejaVu Sans","Liberation Sans",sans-serif' fill="#262626" >30</text>
<line x1="434.4" y1="29.62" x2="438.4" y2="29.62" stroke="#222" stroke-width="1.1"/>
<text x="429.8" y="33.94" font-size="13.2" text-anchor="end" font-family='"DejaVu Sans","Liberation Sans",sans-serif' fill="#262626" >0</text>
<line x1="434.4" y1="70.82" x2="438.4" y2="70.82" stroke="#222" stroke-width="1.1"/>
<text x="429.8" y="75.14" font-size="13.2" text-anchor="end" font-family='"DejaVu Sans","Liberation Sans",sans-serif' fill="#262626" >5</text>
<line x1="434.4" y1="112.03" x2="438.4" y2="112.03" stroke="#222" stroke-width="1.1"/>
<text x="429.8" y="116.34" font-size="13.2" text-anchor="end" font-family='"DejaVu Sans","Liberation Sans",sans-serif' fill="#262626" >10</text>
<line x1="434.4" y1="153.23" x2="438.4" y2="153.23" stroke="#222" stroke-width="1.1"/>
<text x="429.8" y="157.55" font-size="13.2" text-anchor="end" font-family='"DejaVu Sans","Liberation Sans",sans-serif' fill="#262626" >15</text>
<line x1="434.4" y1="194.43" x2="438.4" y2="194.43" stroke="#222" stroke-width="1.1"/>
<text x="429.8" y="198.75" font-size="13.2" text-anchor="end" font-family='"DejaVu Sans","Liberation Sans",sans-serif' fill="#262626" >20</text>
<line x1="434.4" y1="235.64" x2="438.4" y2="235.64" stroke="#222" stroke-width="1.1"/>
<text x="429.8" y="239.95" font-size="13.2" text-anchor="end" font-family='"DejaVu Sans","Liberation Sans",sans-serif' fill="#262626" >25</text>
<line x1="434.4" y1="276.84" x2="438.4" y2="276.84" stroke="#222" stroke-width="1.1"/>
<text x="429.8" y="281.16" font-size="13.2" text-anchor="end" font-family='"DejaVu Sans","Liberation Sans",sans-serif' fill="#262626" >30</text>
<text x="570.25" y="18.6" font-size="20.8" text-anchor="middle" font-family='"DejaVu Sans","Liberation Sans",sans-serif' fill="#1a1a1a" >No background image</text>
<linearGradient id="gb" x1="0" x2="1" y1="0" y2="0"><stop offset="0" stop-color="#000"/><stop offset="1" stop-color="#fff"/></linearGradient>
<rect x="438.4" y="330.4" width="263.7" height="12.4" fill="url(#gb)" stroke="#222" stroke-width="1"/>
<line x1="438.4" y1="342.8" x2="438.4" y2="346.6" stroke="#222" stroke-width="1.1"/>
<text x="438.4" y="360" font-size="11.1" text-anchor="middle" font-family='"DejaVu Sans","Liberation Sans",sans-serif' fill="#262626" >0</text>
<line x1="478.6" y1="342.8" x2="478.6" y2="346.6" stroke="#222" stroke-width="1.1"/>
<text x="478.6" y="360" font-size="11.1" text-anchor="middle" font-family='"DejaVu Sans","Liberation Sans",sans-serif' fill="#262626" >50</text>
<line x1="518.8" y1="342.8" x2="518.8" y2="346.6" stroke="#222" stroke-width="1.1"/>
<text x="518.8" y="360" font-size="11.1" text-anchor="middle" font-family='"DejaVu Sans","Liberation Sans",sans-serif' fill="#262626" >100</text>
<line x1="558.99" y1="342.8" x2="558.99" y2="346.6" stroke="#222" stroke-width="1.1"/>
<text x="558.99" y="360" font-size="11.1" text-anchor="middle" font-family='"DejaVu Sans","Liberation Sans",sans-serif' fill="#262626" >150</text>
<line x1="599.19" y1="342.8" x2="599.19" y2="346.6" stroke="#222" stroke-width="1.1"/>
<text x="599.19" y="360" font-size="11.1" text-anchor="middle" font-family='"DejaVu Sans","Liberation Sans",sans-serif' fill="#262626" >200</text>
<line x1="639.39" y1="342.8" x2="639.39" y2="346.6" stroke="#222" stroke-width="1.1"/>
<text x="639.39" y="360" font-size="11.1" text-anchor="middle" font-family='"DejaVu Sans","Liberation Sans",sans-serif' fill="#262626" >250</text>
<line x1="679.59" y1="342.8" x2="679.59" y2="346.6" stroke="#222" stroke-width="1.1"/>
<text x="679.59" y="360" font-size="11.1" text-anchor="middle" font-family='"DejaVu Sans","Liberation Sans",sans-serif' fill="#262626" >300</text>
<text x="569.45" y="390" font-size="13.85" text-anchor="middle" font-family='"DejaVu Sans","Liberation Sans",sans-serif' fill="#262626" >Intensity (HU)</text>
<text x="570.75" y="413" font-size="23" text-anchor="middle" font-family='"Liberation Sans","DejaVu Sans",sans-serif' fill="#111" >(b)</text>
<rect x="67" y="451.8" width="269.4" height="268.7" fill="#21918c"/>
<g shape-rendering="crispEdges">
<rect x="75.42" y="544.17" width="42.09" height="8.4" fill="#31688e"/>
<rect x="184.86" y="544.17" width="50.51" height="8.4" fill="#440154"/>
<rect x="67" y="552.56" width="58.93" height="8.4" fill="#31688e"/>
<rect x="176.44" y="552.56" width="58.93" height="8.4" fill="#440154"/>
<rect x="67" y="560.96" width="8.42" height="8.4" fill="#31688e"/>
<rect x="75.42" y="560.96" width="50.51" height="8.4" fill="#35b779"/>
<rect x="125.93" y="560.96" width="8.42" height="8.4" fill="#31688e"/>
<rect x="168.02" y="560.96" width="8.42" height="8.4" fill="#31688e"/>
<rect x="176.44" y="560.96" width="50.51" height="8.4" fill="#443983"/>
<rect x="226.96" y="560.96" width="16.84" height="8.4" fill="#440154"/>
<rect x="67" y="569.36" width="8.42" height="8.4" fill="#35b779"/>
<rect x="75.42" y="569.36" width="33.67" height="8.4" fill="#fde725"/>
<rect x="109.09" y="569.36" width="16.84" height="8.4" fill="#35b779"/>
<rect x="125.93" y="569.36" width="50.51" height="8.4" fill="#31688e"/>
<rect x="176.44" y="569.36" width="58.93" height="8.4" fill="#443983"/>
<rect x="235.38" y="569.36" width="16.84" height="8.4" fill="#440154"/>
<rect x="67" y="577.75" width="8.42" height="8.4" fill="#35b779"/>
<rect x="75.42" y="577.75" width="42.09" height="8.4" fill="#fde725"/>
<rect x="117.51" y="577.75" width="25.26" height="8.4" fill="#35b779"/>
<rect x="142.77" y="577.75" width="33.67" height="8.4" fill="#31688e"/>
<rect x="176.44" y="577.75" width="16.84" height="8.4" fill="#443983"/>
<rect x="193.28" y="577.75" width="33.67" height="8.4" fill="#90d743"/>
<rect x="226.96" y="577.75" width="8.42" height="8.4" fill="#443983"/>
<rect x="235.38" y="577.75" width="16.84" height="8.4" fill="#440154"/>
<rect x="67" y="586.15" width="8.42" height="8.4" fill="#35b779"/>
<rect x="75.42" y="586.15" width="42.09" height="8.4" fill="#fde725"/>
<rect x="117.51" y="586.15" width="25.26" height="8.4" fill="#35b779"/>
<rect x="142.77" y="586.15" width="33.67" height="8.4" fill="#31688e"/>
<rect x="176.44" y="586.15" width="16.84" height="8.4" fill="#443983"/>
<rect x="193.28" y="586.15" width="33.67" height="8.4" fill="#90d743"/>
<rect x="226.96" y="586.15" width="8.42" height="8.4" fill="#443983"/>
<rect x="235.38" y="586.15" width="16.84" height="8.4" fill="#440154"/>
<rect x="67" y="594.55" width="16.84" height="8.4" fill="#35b779"/>
<rect x="83.84" y="594.55" width="33.67" height="8.4" fill="#fde725"/>
<rect x="117.51" y="594.55" width="25.26" height="8.4" fill="#35b779"/>
<rect x="142.77" y="594.55" width="33.67" height="8.4" fill="#31688e"/>
<rect x="176.44" y="594.55" width="16.84" height="8.4" fill="#443983"/>
<rect x="193.28" y="594.55" width="33.67" height="8.4" fill="#90d743"/>
<rect x="226.96" y="594.55" width="8.42" height="8.4" fill="#443983"/>
<rect x="235.38" y="594.55" width="16.84" height="8.4" fill="#440154"/>
<rect x="75.42" y="602.94" width="50.51" height="8.4" fill="#35b779"/>
<rect x="125.93" y="602.94" width="25.26" height="8.4" fill="#31688e"/>
<rect x="168.02" y="602.94" width="16.84" height="8.4" fill="#31688e"/>
<rect x="184.86" y="602.94" width="8.42" height="8.4" fill="#443983"/>
<rect x="193.28" y="602.94" width="33.67" height="8.4" fill="#90d743"/>
<rect x="226.96" y="602.94" width="8.42" height="8.4" fill="#443983"/>
<rect x="235.38" y="602.94" width="8.42" height="8.4" fill="#440154"/>
<rect x="243.79" y="602.94" width="8.42" height="8.4" fill="#31688e"/>
<rect x="83.84" y="611.34" width="50.51" height="8.4" fill="#31688e"/>
<rect x="176.44" y="611.34" width="8.42" height="8.4" fill="#31688e"/>
<rect x="184.86" y="611.34" width="42.09" height="8.4" fill="#443983"/>
<rect x="226.96" y="611.34" width="25.26" height="8.4" fill="#31688e"/>
<rect x="176.44" y="619.74" width="67.35" height="8.4" fill="#31688e"/>
<rect x="184.86" y="628.13" width="58.93" height="8.4" fill="#31688e"/>
</g>
<rect x="67" y="451.8" width="269.4" height="268.7" fill="none" stroke="#1c1c1c" stroke-width="1"/>
<line x1="71.21" y1="720.5" x2="71.21" y2="724.1" stroke="#222" stroke-width="1"/>
<text x="71.21" y="736.4" font-size="11.6" text-anchor="middle" font-family='"DejaVu Sans","Liberation Sans",sans-serif' fill="#262626" >0</text>
<line x1="63.4" y1="456" x2="67" y2="456" stroke="#222" stroke-width="1"/>
<text x="59" y="460.63" font-size="11.6" text-anchor="end" font-family='"DejaVu Sans","Liberation Sans",sans-serif' fill="#262626" >0</text>
<line x1="113.3" y1="720.5" x2="113.3" y2="724.1" stroke="#222" stroke-width="1"/>
<text x="113.3" y="736.4" font-size="11.6" text-anchor="middle" font-family='"DejaVu Sans","Liberation Sans",sans-serif' fill="#262626" >5</text>
<line x1="63.4" y1="497.98" x2="67" y2="497.98" stroke="#222" stroke-width="1"/>
<text x="59" y="502.62" font-size="11.6" text-anchor="end" font-family='"DejaVu Sans","Liberation Sans",sans-serif' fill="#262626" >5</text>
<line x1="155.4" y1="720.5" x2="155.4" y2="724.1" stroke="#222" stroke-width="1"/>
<text x="155.4" y="736.4" font-size="11.6" text-anchor="middle" font-family='"DejaVu Sans","Liberation Sans",sans-serif' fill="#262626" >10</text>
<line x1="63.4" y1="539.97" x2="67" y2="539.97" stroke="#222" stroke-width="1"/>
<text x="59" y="544.6" font-size="11.6" text-anchor="end" font-family='"DejaVu Sans","Liberation Sans",sans-serif' fill="#262626" >10</text>
<line x1="197.49" y1="720.5" x2="197.49" y2="724.1" stroke="#222" stroke-width="1"/>
<text x="197.49" y="736.4" font-size="11.6" text-anchor="middle" font-family='"DejaVu Sans","Liberation Sans",sans-serif' fill="#262626" >15</text>
<line x1="63.4" y1="581.95" x2="67" y2="581.95" stroke="#222" stroke-width="1"/>
<text x="59" y="586.59" font-size="11.6" text-anchor="end" font-family='"DejaVu Sans","Liberation Sans",sans-serif' fill="#262626" >15</text>
<line x1="239.58" y1="720.5" x2="239.58" y2="724.1" stroke="#222" stroke-width="1"/>
<text x="239.58" y="736.4" font-size="11.6" text-anchor="middle" font-family='"DejaVu Sans","Liberation Sans",sans-serif' fill="#262626" >20</text>
<line x1="63.4" y1="623.94" x2="67" y2="623.94" stroke="#222" stroke-width="1"/>
<text x="59" y="628.57" font-size="11.6" text-anchor="end" font-family='"DejaVu Sans","Liberation Sans",sans-serif' fill="#262626" >20</text>
<line x1="281.68" y1="720.5" x2="281.68" y2="724.1" stroke="#222" stroke-width="1"/>
<text x="281.68" y="736.4" font-size="11.6" text-anchor="middle" font-family='"DejaVu Sans","Liberation Sans",sans-serif' fill="#262626" >25</text>
<line x1="63.4" y1="665.92" x2="67" y2="665.92" stroke="#222" stroke-width="1"/>
<text x="59" y="670.55" font-size="11.6" text-anchor="end" font-family='"DejaVu Sans","Liberation Sans",sans-serif' fill="#262626" >25</text>
<line x1="323.77" y1="720.5" x2="323.77" y2="724.1" stroke="#222" stroke-width="1"/>
<text x="323.77" y="736.4" font-size="11.6" text-anchor="middle" font-family='"DejaVu Sans","Liberation Sans",sans-serif' fill="#262626" >30</text>
<line x1="63.4" y1="707.9" x2="67" y2="707.9" stroke="#222" stroke-width="1"/>
<text x="59" y="712.54" font-size="11.6" text-anchor="end" font-family='"DejaVu Sans","Liberation Sans",sans-serif' fill="#262626" >30</text>
<text x="201.1" y="446.5" font-size="17.4" text-anchor="middle" font-family='"DejaVu Sans","Liberation Sans",sans-serif' fill="#1a1a1a" >Ward's clusters</text>
<circle cx="197.49" cy="581.95" r="3.1" fill="#ff0000"/>
<path d="M180.65 553.56L183.85 559.96L177.45 559.96Z" fill="#1f77b4"/>
<path d="M214.33 570.35L217.53 576.75L211.13 576.75Z" fill="#ff7f0e"/>
<path d="M121.72 561.96L124.92 568.36L118.52 568.36Z" fill="#2ca02c"/>
<path d="M298.52 679.51L301.72 685.91L295.32 685.91Z" fill="#d62728"/>
<path d="M121.72 595.55L124.92 601.95L118.52 601.95Z" fill="#9467bd"/>
<path d="M205.91 595.55L209.11 601.95L202.71 601.95Z" fill="#8c564b"/>
<path d="M96.47 587.15L99.67 593.55L93.27 593.55Z" fill="#e377c2"/>
<text x="179.95" y="557.11" font-size="19.3" text-anchor="start" font-family='"DejaVu Sans","Liberation Sans",sans-serif' fill="#000" >0</text>
<text x="213.63" y="573.9" font-size="19.3" text-anchor="start" font-family='"DejaVu Sans","Liberation Sans",sans-serif' fill="#000" >1</text>
<text x="121.02" y="565.51" font-size="19.3" text-anchor="start" font-family='"DejaVu Sans","Liberation Sans",sans-serif' fill="#000" >2</text>
<text x="297.82" y="683.06" font-size="19.3" text-anchor="start" font-family='"DejaVu Sans","Liberation Sans",sans-serif' fill="#000" >3</text>
<text x="121.02" y="599.1" font-size="19.3" text-anchor="start" font-family='"DejaVu Sans","Liberation Sans",sans-serif' fill="#000" >4</text>
<text x="205.21" y="599.1" font-size="19.3" text-anchor="start" font-family='"DejaVu Sans","Liberation Sans",sans-serif' fill="#000" >5</text>
<text x="95.77" y="590.7" font-size="19.3" text-anchor="start" font-family='"DejaVu Sans","Liberation Sans",sans-serif' fill="#000" >6</text>
<text x="208.5" y="758" font-size="23" text-anchor="middle" font-family='"Liberation Sans","DejaVu Sans",sans-serif' fill="#111" >(c)</text>
<rect x="429.3" y="451.8" width="269.9" height="268.6" fill="#21918c"/>
<g shape-rendering="crispEdges">
<rect x="555.82" y="544.13" width="42.17" height="8.39" fill="#35b779"/>
<rect x="538.95" y="552.52" width="16.87" height="8.39" fill="#35b779"/>
<rect x="555.82" y="552.52" width="42.17" height="8.39" fill="#440154"/>
<rect x="538.95" y="560.92" width="16.87" height="8.39" fill="#31688e"/>
<rect x="555.82" y="560.92" width="33.74" height="8.39" fill="#443983"/>
<rect x="589.55" y="560.92" width="16.87" height="8.39" fill="#440154"/>
<rect x="538.95" y="569.31" width="8.43" height="8.39" fill="#31688e"/>
<rect x="547.38" y="569.31" width="50.61" height="8.39" fill="#443983"/>
<rect x="597.99" y="569.31" width="16.87" height="8.39" fill="#440154"/>
<rect x="538.95" y="577.71" width="8.43" height="8.39" fill="#31688e"/>
<rect x="547.38" y="577.71" width="8.43" height="8.39" fill="#443983"/>
<rect x="555.82" y="577.71" width="33.74" height="8.39" fill="#90d743"/>
<rect x="589.55" y="577.71" width="8.43" height="8.39" fill="#443983"/>
<rect x="597.99" y="577.71" width="16.87" height="8.39" fill="#440154"/>
<rect x="538.95" y="586.1" width="8.43" height="8.39" fill="#31688e"/>
<rect x="547.38" y="586.1" width="8.43" height="8.39" fill="#443983"/>
<rect x="555.82" y="586.1" width="8.43" height="8.39" fill="#90d743"/>
<rect x="564.25" y="586.1" width="16.87" height="8.39" fill="#fde725"/>
<rect x="581.12" y="586.1" width="8.43" height="8.39" fill="#90d743"/>
<rect x="589.55" y="586.1" width="8.43" height="8.39" fill="#443983"/>
<rect x="597.99" y="586.1" width="16.87" height="8.39" fill="#440154"/>
<rect x="538.95" y="594.49" width="8.43" height="8.39" fill="#31688e"/>
<rect x="547.38" y="594.49" width="8.43" height="8.39" fill="#443983"/>
<rect x="555.82" y="594.49" width="8.43" height="8.39" fill="#90d743"/>
<rect x="564.25" y="594.49" width="16.87" height="8.39" fill="#fde725"/>
<rect x="581.12" y="594.49" width="8.43" height="8.39" fill="#90d743"/>
<rect x="589.55" y="594.49" width="8.43" height="8.39" fill="#443983"/>
<rect x="597.99" y="594.49" width="16.87" height="8.39" fill="#440154"/>
<rect x="547.38" y="602.89" width="8.43" height="8.39" fill="#443983"/>
<rect x="555.82" y="602.89" width="33.74" height="8.39" fill="#90d743"/>
<rect x="589.55" y="602.89" width="8.43" height="8.39" fill="#443983"/>
<rect x="597.99" y="602.89" width="8.43" height="8.39" fill="#440154"/>
<rect x="547.38" y="611.28" width="42.17" height="8.39" fill="#443983"/>
</g>
<rect x="429.3" y="451.8" width="269.9" height="268.6" fill="none" stroke="#1c1c1c" stroke-width="1"/>
<line x1="433.52" y1="720.4" x2="433.52" y2="724" stroke="#222" stroke-width="1"/>
<text x="433.52" y="736.3" font-size="11.6" text-anchor="middle" font-family='"DejaVu Sans","Liberation Sans",sans-serif' fill="#262626" >0</text>
<line x1="425.7" y1="456" x2="429.3" y2="456" stroke="#222" stroke-width="1"/>
<text x="421.3" y="460.63" font-size="11.6" text-anchor="end" font-family='"DejaVu Sans","Liberation Sans",sans-serif' fill="#262626" >0</text>
<line x1="475.69" y1="720.4" x2="475.69" y2="724" stroke="#222" stroke-width="1"/>
<text x="475.69" y="736.3" font-size="11.6" text-anchor="middle" font-family='"DejaVu Sans","Liberation Sans",sans-serif' fill="#262626" >5</text>
<line x1="425.7" y1="497.97" x2="429.3" y2="497.97" stroke="#222" stroke-width="1"/>
<text x="421.3" y="502.6" font-size="11.6" text-anchor="end" font-family='"DejaVu Sans","Liberation Sans",sans-serif' fill="#262626" >5</text>
<line x1="517.86" y1="720.4" x2="517.86" y2="724" stroke="#222" stroke-width="1"/>
<text x="517.86" y="736.3" font-size="11.6" text-anchor="middle" font-family='"DejaVu Sans","Liberation Sans",sans-serif' fill="#262626" >10</text>
<line x1="425.7" y1="539.93" x2="429.3" y2="539.93" stroke="#222" stroke-width="1"/>
<text x="421.3" y="544.57" font-size="11.6" text-anchor="end" font-family='"DejaVu Sans","Liberation Sans",sans-serif' fill="#262626" >10</text>
<line x1="560.03" y1="720.4" x2="560.03" y2="724" stroke="#222" stroke-width="1"/>
<text x="560.03" y="736.3" font-size="11.6" text-anchor="middle" font-family='"DejaVu Sans","Liberation Sans",sans-serif' fill="#262626" >15</text>
<line x1="425.7" y1="581.9" x2="429.3" y2="581.9" stroke="#222" stroke-width="1"/>
<text x="421.3" y="586.54" font-size="11.6" text-anchor="end" font-family='"DejaVu Sans","Liberation Sans",sans-serif' fill="#262626" >15</text>
<line x1="602.2" y1="720.4" x2="602.2" y2="724" stroke="#222" stroke-width="1"/>
<text x="602.2" y="736.3" font-size="11.6" text-anchor="middle" font-family='"DejaVu Sans","Liberation Sans",sans-serif' fill="#262626" >20</text>
<line x1="425.7" y1="623.87" x2="429.3" y2="623.87" stroke="#222" stroke-width="1"/>
<text x="421.3" y="628.51" font-size="11.6" text-anchor="end" font-family='"DejaVu Sans","Liberation Sans",sans-serif' fill="#262626" >20</text>
<line x1="644.38" y1="720.4" x2="644.38" y2="724" stroke="#222" stroke-width="1"/>
<text x="644.38" y="736.3" font-size="11.6" text-anchor="middle" font-family='"DejaVu Sans","Liberation Sans",sans-serif' fill="#262626" >25</text>
<line x1="425.7" y1="665.84" x2="429.3" y2="665.84" stroke="#222" stroke-width="1"/>
<text x="421.3" y="670.47" font-size="11.6" text-anchor="end" font-family='"DejaVu Sans","Liberation Sans",sans-serif' fill="#262626" >25</text>
<line x1="686.55" y1="720.4" x2="686.55" y2="724" stroke="#222" stroke-width="1"/>
<text x="686.55" y="736.3" font-size="11.6" text-anchor="middle" font-family='"DejaVu Sans","Liberation Sans",sans-serif' fill="#262626" >30</text>
<line x1="425.7" y1="707.81" x2="429.3" y2="707.81" stroke="#222" stroke-width="1"/>
<text x="421.3" y="712.44" font-size="11.6" text-anchor="end" font-family='"DejaVu Sans","Liberation Sans",sans-serif' fill="#262626" >30</text>
<text x="563.65" y="446.5" font-size="17.4" text-anchor="middle" font-family='"DejaVu Sans","Liberation Sans",sans-serif' fill="#1a1a1a" >Ward's clusters</text>
<circle cx="560.03" cy="581.9" r="3.1" fill="#ff0000"/>
<path d="M593.77 553.52L596.97 559.92L590.57 559.92Z" fill="#1f77b4"/>
<path d="M551.6 612.28L554.8 618.68L548.4 618.68Z" fill="#ff7f0e"/>
<path d="M543.16 587.1L546.36 593.5L539.96 593.5Z" fill="#2ca02c"/>
<path d="M627.51 469.58L630.71 475.98L624.31 475.98Z" fill="#d62728"/>
<path d="M543.16 553.52L546.36 559.92L539.96 559.92Z" fill="#9467bd"/>
<path d="M585.34 595.49L588.54 601.89L582.14 601.89Z" fill="#8c564b"/>
<path d="M568.47 587.1L571.67 593.5L565.27 593.5Z" fill="#e377c2"/>
<text x="593.07" y="557.07" font-size="19.3" text-anchor="start" font-family='"DejaVu Sans","Liberation Sans",sans-serif' fill="#000" >0</text>
<text x="550.9" y="615.83" font-size="19.3" text-anchor="start" font-family='"DejaVu Sans","Liberation Sans",sans-serif' fill="#000" >1</text>
<text x="542.46" y="590.65" font-size="19.3" text-anchor="start" font-family='"DejaVu Sans","Liberation Sans",sans-serif' fill="#000" >2</text>
<text x="626.81" y="473.13" font-size="19.3" text-anchor="start" font-family='"DejaVu Sans","Liberation Sans",sans-serif' fill="#000" >3</text>
<text x="542.46" y="557.07" font-size="19.3" text-anchor="start" font-family='"DejaVu Sans","Liberation Sans",sans-serif' fill="#000" >4</text>
<text x="584.64" y="599.04" font-size="19.3" text-anchor="start" font-family='"DejaVu Sans","Liberation Sans",sans-serif' fill="#000" >5</text>
<text x="567.77" y="590.65" font-size="19.3" text-anchor="start" font-family='"DejaVu Sans","Liberation Sans",sans-serif' fill="#000" >6</text>
<text x="571.05" y="758" font-size="23" text-anchor="middle" font-family='"Liberation Sans","DejaVu Sans",sans-serif' fill="#111" >(d)</text>
<rect x="66.8" y="797.7" width="269.6" height="285" fill="#fff"/>
<line x1="71.9" y1="1082.7" x2="71.9" y2="1086.2" stroke="#333" stroke-width="0.9"/>
<text x="71.9" y="1097.6" font-size="11.5" text-anchor="middle" font-family='"DejaVu Sans","Liberation Sans",sans-serif' fill="#262626" >0</text>
<line x1="112" y1="1082.7" x2="112" y2="1086.2" stroke="#333" stroke-width="0.9"/>
<text x="112" y="1097.6" font-size="11.5" text-anchor="middle" font-family='"DejaVu Sans","Liberation Sans",sans-serif' fill="#262626" >2</text>
<line x1="152.1" y1="1082.7" x2="152.1" y2="1086.2" stroke="#333" stroke-width="0.9"/>
<text x="152.1" y="1097.6" font-size="11.5" text-anchor="middle" font-family='"DejaVu Sans","Liberation Sans",sans-serif' fill="#262626" >4</text>
<line x1="192.2" y1="1082.7" x2="192.2" y2="1086.2" stroke="#333" stroke-width="0.9"/>
<text x="192.2" y="1097.6" font-size="11.5" text-anchor="middle" font-family='"DejaVu Sans","Liberation Sans",sans-serif' fill="#262626" >6</text>
<line x1="232.3" y1="1082.7" x2="232.3" y2="1086.2" stroke="#333" stroke-width="0.9"/>
<text x="232.3" y="1097.6" font-size="11.5" text-anchor="middle" font-family='"DejaVu Sans","Liberation Sans",sans-serif' fill="#262626" >8</text>
<line x1="272.4" y1="1082.7" x2="272.4" y2="1086.2" stroke="#333" stroke-width="0.9"/>
<text x="272.4" y="1097.6" font-size="11.5" text-anchor="middle" font-family='"DejaVu Sans","Liberation Sans",sans-serif' fill="#262626" >10</text>
<line x1="312.5" y1="1082.7" x2="312.5" y2="1086.2" stroke="#333" stroke-width="0.9"/>
<text x="312.5" y="1097.6" font-size="11.5" text-anchor="middle" font-family='"DejaVu Sans","Liberation Sans",sans-serif' fill="#262626" >12</text>
<line x1="63.3" y1="1060.9" x2="66.8" y2="1060.9" stroke="#333" stroke-width="0.9"/>
<text x="60.3" y="1065.1" font-size="11.5" text-anchor="end" font-family='"DejaVu Sans","Liberation Sans",sans-serif' fill="#262626" >−100</text>
<line x1="63.3" y1="1000.7" x2="66.8" y2="1000.7" stroke="#333" stroke-width="0.9"/>
<text x="60.3" y="1004.9" font-size="11.5" text-anchor="end" font-family='"DejaVu Sans","Liberation Sans",sans-serif' fill="#262626" >0</text>
<line x1="63.3" y1="940.5" x2="66.8" y2="940.5" stroke="#333" stroke-width="0.9"/>
<text x="60.3" y="944.7" font-size="11.5" text-anchor="end" font-family='"DejaVu Sans","Liberation Sans",sans-serif' fill="#262626" >100</text>
<line x1="63.3" y1="880.3" x2="66.8" y2="880.3" stroke="#333" stroke-width="0.9"/>
<text x="60.3" y="884.5" font-size="11.5" text-anchor="end" font-family='"DejaVu Sans","Liberation Sans",sans-serif' fill="#262626" >200</text>
<line x1="63.3" y1="820.1" x2="66.8" y2="820.1" stroke="#333" stroke-width="0.9"/>
<text x="60.3" y="824.3" font-size="11.5" text-anchor="end" font-family='"DejaVu Sans","Liberation Sans",sans-serif' fill="#262626" >300</text>
<line x1="114.2" y1="822.5" x2="90" y2="874.4" stroke="#000" stroke-width="2.8"/>
<line x1="90" y1="874.4" x2="143" y2="928.8" stroke="#000" stroke-width="2.8"/>
<line x1="143" y1="928.8" x2="171.9" y2="947.8" stroke="#000" stroke-width="2.8"/>
<line x1="171.9" y1="947.8" x2="290.6" y2="886.5" stroke="#000" stroke-width="2.8"/>
<line x1="290.6" y1="886.5" x2="312.3" y2="830.8" stroke="#000" stroke-width="2.8"/>
<line x1="171.9" y1="947.8" x2="102" y2="1058" stroke="#000" stroke-width="2.8"/>
<g transform="translate(102.1 848.45) rotate(-65)"><rect x="-14.4" y="-6" width="28.8" height="12" rx="2" fill="#fff"/><text x="0" y="2.8" font-size="7.6" text-anchor="middle" font-family='"DejaVu Sans","Liberation Sans",sans-serif' fill="#222">85.78</text></g>
<g transform="translate(116.5 901.6) rotate(45.75)"><rect x="-14.4" y="-6" width="28.8" height="12" rx="2" fill="#fff"/><text x="0" y="2.8" font-size="7.6" text-anchor="middle" font-family='"DejaVu Sans","Liberation Sans",sans-serif' fill="#222">90.64</text></g>
<g transform="translate(157.45 938.3) rotate(33.32)"><rect x="-14.4" y="-6" width="28.8" height="12" rx="2" fill="#fff"/><text x="0" y="2.8" font-size="7.6" text-anchor="middle" font-family='"DejaVu Sans","Liberation Sans",sans-serif' fill="#222">32.64</text></g>
<g transform="translate(231.25 917.15) rotate(-27.31)"><rect x="-16.68" y="-6" width="33.36" height="12" rx="2" fill="#fff"/><text x="0" y="2.8" font-size="7.6" text-anchor="middle" font-family='"DejaVu Sans","Liberation Sans",sans-serif' fill="#222">102.96</text></g>
<g transform="translate(301.45 858.65) rotate(-68.71)"><rect x="-14.4" y="-6" width="28.8" height="12" rx="2" fill="#fff"/><text x="0" y="2.8" font-size="7.6" text-anchor="middle" font-family='"DejaVu Sans","Liberation Sans",sans-serif' fill="#222">92.56</text></g>
<g transform="translate(136.95 1002.9) rotate(-57.61)"><rect x="-16.68" y="-6" width="33.36" height="12" rx="2" fill="#fff"/><text x="0" y="2.8" font-size="7.6" text-anchor="middle" font-family='"DejaVu Sans","Liberation Sans",sans-serif' fill="#222">182.25</text></g>
<circle cx="143" cy="928.8" r="13.2" fill="#1f77b4"/>
<circle cx="90" cy="874.4" r="13.2" fill="#1f77b4"/>
<circle cx="171.9" cy="947.8" r="13.2" fill="#1f77b4"/>
<circle cx="102" cy="1058" r="13.2" fill="#1f77b4"/>
<circle cx="290.6" cy="886.5" r="13.2" fill="#1f77b4"/>
<circle cx="114.2" cy="822.5" r="13.2" fill="#1f77b4"/>
<circle cx="312.3" cy="830.8" r="13.2" fill="#1f77b4"/>
<text x="143" y="935.1" font-size="19.6" text-anchor="middle" font-family='"DejaVu Sans","Liberation Sans",sans-serif' fill="#000" >0</text>
<text x="90" y="880.7" font-size="19.6" text-anchor="middle" font-family='"DejaVu Sans","Liberation Sans",sans-serif' fill="#000" >1</text>
<text x="171.9" y="954.1" font-size="19.6" text-anchor="middle" font-family='"DejaVu Sans","Liberation Sans",sans-serif' fill="#000" >2</text>
<text x="102" y="1064.3" font-size="19.6" text-anchor="middle" font-family='"DejaVu Sans","Liberation Sans",sans-serif' fill="#000" >3</text>
<text x="290.6" y="892.8" font-size="19.6" text-anchor="middle" font-family='"DejaVu Sans","Liberation Sans",sans-serif' fill="#000" >4</text>
<text x="114.2" y="828.8" font-size="19.6" text-anchor="middle" font-family='"DejaVu Sans","Liberation Sans",sans-serif' fill="#000" >5</text>
<text x="312.3" y="837.1" font-size="19.6" text-anchor="middle" font-family='"DejaVu Sans","Liberation Sans",sans-serif' fill="#000" >6</text>
<rect x="66.8" y="797.7" width="269.6" height="285" fill="none" stroke="#3a3a3a" stroke-width="1.15"/>
<text x="201" y="791.8" font-size="17.45" text-anchor="middle" font-family='"DejaVu Sans","Liberation Sans",sans-serif' fill="#1a1a1a" >Clusters' network</text>
<text x="201.6" y="1114.7" font-size="14.4" text-anchor="middle" font-family='"DejaVu Sans","Liberation Sans",sans-serif' fill="#262626" >Distance to centerline (pixel)</text>
<text transform="translate(20.5 941.3) rotate(-90)" font-size="14.5" text-anchor="middle" font-family='"DejaVu Sans","Liberation Sans",sans-serif' fill="#262626">Mean bright value (HU)</text>
<text x="208.4" y="1138" font-size="23" text-anchor="middle" font-family='"Liberation Sans","DejaVu Sans",sans-serif' fill="#111" >(e)</text>
<rect x="429.7" y="797.8" width="269.5" height="285.2" fill="#fff"/>
<line x1="472.3" y1="1083" x2="472.3" y2="1086.5" stroke="#333" stroke-width="0.9"/>
<text x="472.3" y="1097.9" font-size="11.5" text-anchor="middle" font-family='"DejaVu Sans","Liberation Sans",sans-serif' fill="#262626" >1</text>
<line x1="533.6" y1="1083" x2="533.6" y2="1086.5" stroke="#333" stroke-width="0.9"/>
<text x="533.6" y="1097.9" font-size="11.5" text-anchor="middle" font-family='"DejaVu Sans","Liberation Sans",sans-serif' fill="#262626" >2</text>
<line x1="594.9" y1="1083" x2="594.9" y2="1086.5" stroke="#333" stroke-width="0.9"/>
<text x="594.9" y="1097.9" font-size="11.5" text-anchor="middle" font-family='"DejaVu Sans","Liberation Sans",sans-serif' fill="#262626" >3</text>
<line x1="656.2" y1="1083" x2="656.2" y2="1086.5" stroke="#333" stroke-width="0.9"/>
<text x="656.2" y="1097.9" font-size="11.5" text-anchor="middle" font-family='"DejaVu Sans","Liberation Sans",sans-serif' fill="#262626" >4</text>
<line x1="426.2" y1="1077.65" x2="429.7" y2="1077.65" stroke="#333" stroke-width="0.9"/>
<text x="423.2" y="1081.85" font-size="11.5" text-anchor="end" font-family='"DejaVu Sans","Liberation Sans",sans-serif' fill="#262626" >−100</text>
<line x1="426.2" y1="1017.5" x2="429.7" y2="1017.5" stroke="#333" stroke-width="0.9"/>
<text x="423.2" y="1021.7" font-size="11.5" text-anchor="end" font-family='"DejaVu Sans","Liberation Sans",sans-serif' fill="#262626" >0</text>
<line x1="426.2" y1="957.35" x2="429.7" y2="957.35" stroke="#333" stroke-width="0.9"/>
<text x="423.2" y="961.55" font-size="11.5" text-anchor="end" font-family='"DejaVu Sans","Liberation Sans",sans-serif' fill="#262626" >100</text>
<line x1="426.2" y1="897.2" x2="429.7" y2="897.2" stroke="#333" stroke-width="0.9"/>
<text x="423.2" y="901.4" font-size="11.5" text-anchor="end" font-family='"DejaVu Sans","Liberation Sans",sans-serif' fill="#262626" >200</text>
<line x1="426.2" y1="837.05" x2="429.7" y2="837.05" stroke="#333" stroke-width="0.9"/>
<text x="423.2" y="841.25" font-size="11.5" text-anchor="end" font-family='"DejaVu Sans","Liberation Sans",sans-serif' fill="#262626" >300</text>
<line x1="541.1" y1="846.6" x2="541.1" y2="822.3" stroke="#000" stroke-width="2.8"/>
<line x1="508.9" y1="885.2" x2="541.1" y2="846.6" stroke="#000" stroke-width="2.8"/>
<line x1="508.9" y1="885.2" x2="525.6" y2="916" stroke="#000" stroke-width="2.8"/>
<line x1="508.9" y1="885.2" x2="675.3" y2="933.3" stroke="#000" stroke-width="2.8"/>
<line x1="675.3" y1="933.3" x2="645.5" y2="969.9" stroke="#000" stroke-width="2.8"/>
<line x1="645.5" y1="969.9" x2="452.9" y2="1058" stroke="#000" stroke-width="2.8"/>
<g transform="translate(541.1 834.45) rotate(-90)"><rect x="-14.4" y="-6" width="28.8" height="12" rx="2" fill="#fff"/><text x="0" y="2.8" font-size="7.6" text-anchor="middle" font-family='"DejaVu Sans","Liberation Sans",sans-serif' fill="#222">41.01</text></g>
<g transform="translate(525 865.9) rotate(-50.17)"><rect x="-14.4" y="-6" width="28.8" height="12" rx="2" fill="#fff"/><text x="0" y="2.8" font-size="7.6" text-anchor="middle" font-family='"DejaVu Sans","Liberation Sans",sans-serif' fill="#222">65.31</text></g>
<g transform="translate(517.25 900.6) rotate(61.53)"><rect x="-14.4" y="-6" width="28.8" height="12" rx="2" fill="#fff"/><text x="0" y="2.8" font-size="7.6" text-anchor="middle" font-family='"DejaVu Sans","Liberation Sans",sans-serif' fill="#222">52.33</text></g>
<g transform="translate(592.1 909.25) rotate(16.12)"><rect x="-14.4" y="-6" width="28.8" height="12" rx="2" fill="#fff"/><text x="0" y="2.8" font-size="7.6" text-anchor="middle" font-family='"DejaVu Sans","Liberation Sans",sans-serif' fill="#222">80.57</text></g>
<g transform="translate(660.4 951.6) rotate(-50.85)"><rect x="-12.12" y="-6" width="24.24" height="12" rx="2" fill="#fff"/><text x="0" y="2.8" font-size="7.6" text-anchor="middle" font-family='"DejaVu Sans","Liberation Sans",sans-serif' fill="#222">61.5</text></g>
<g transform="translate(549.2 1013.95) rotate(-24.58)"><rect x="-14.4" y="-6" width="28.8" height="12" rx="2" fill="#fff"/><text x="0" y="2.8" font-size="7.6" text-anchor="middle" font-family='"DejaVu Sans","Liberation Sans",sans-serif' fill="#222">146.3</text></g>
<circle cx="675.3" cy="933.3" r="13.2" fill="#1f77b4"/>
<circle cx="508.9" cy="885.2" r="13.2" fill="#1f77b4"/>
<circle cx="525.6" cy="916" r="13.2" fill="#1f77b4"/>
<circle cx="452.9" cy="1058" r="13.2" fill="#1f77b4"/>
<circle cx="645.5" cy="969.9" r="13.2" fill="#1f77b4"/>
<circle cx="541.1" cy="846.6" r="13.2" fill="#1f77b4"/>
<circle cx="541.1" cy="822.3" r="13.2" fill="#1f77b4"/>
<text x="675.3" y="939.6" font-size="19.6" text-anchor="middle" font-family='"DejaVu Sans","Liberation Sans",sans-serif' fill="#000" >0</text>
<text x="508.9" y="891.5" font-size="19.6" text-anchor="middle" font-family='"DejaVu Sans","Liberation Sans",sans-serif' fill="#000" >1</text>
<text x="525.6" y="922.3" font-size="19.6" text-anchor="middle" font-family='"DejaVu Sans","Liberation Sans",sans-serif' fill="#000" >2</text>
<text x="452.9" y="1064.3" font-size="19.6" text-anchor="middle" font-family='"DejaVu Sans","Liberation Sans",sans-serif' fill="#000" >3</text>
<text x="645.5" y="976.2" font-size="19.6" text-anchor="middle" font-family='"DejaVu Sans","Liberation Sans",sans-serif' fill="#000" >4</text>
<text x="541.1" y="852.9" font-size="19.6" text-anchor="middle" font-family='"DejaVu Sans","Liberation Sans",sans-serif' fill="#000" >5</text>
<text x="541.1" y="828.6" font-size="19.6" text-anchor="middle" font-family='"DejaVu Sans","Liberation Sans",sans-serif' fill="#000" >6</text>
<rect x="429.7" y="797.8" width="269.5" height="285.2" fill="none" stroke="#3a3a3a" stroke-width="1.15"/>
<text x="563.85" y="791.8" font-size="17.45" text-anchor="middle" font-family='"DejaVu Sans","Liberation Sans",sans-serif' fill="#1a1a1a" >Clusters' network</text>
<text x="564.45" y="1115" font-size="14.4" text-anchor="middle" font-family='"DejaVu Sans","Liberation Sans",sans-serif' fill="#262626" >Distance to centerline (pixel)</text>
<text transform="translate(383.4 941.5) rotate(-90)" font-size="14.5" text-anchor="middle" font-family='"DejaVu Sans","Liberation Sans",sans-serif' fill="#262626">Mean bright value (HU)</text>
<text x="571.25" y="1138" font-size="23" text-anchor="middle" font-family='"Liberation Sans","DejaVu Sans",sans-serif' fill="#111" >(f)</text>
</svg></body></html>
